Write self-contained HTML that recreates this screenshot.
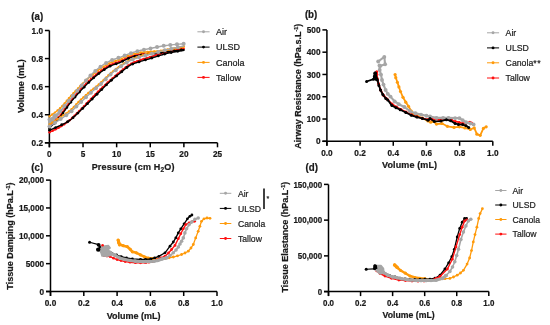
<!DOCTYPE html>
<html><head><meta charset="utf-8"><style>
html,body{margin:0;padding:0;background:#fff;}
body{width:550px;height:325px;overflow:hidden;}
svg{display:block;will-change:transform;filter:blur(0.3px);}
text{stroke:currentColor;stroke-width:0.22px;font-family:"Liberation Sans",sans-serif;}
</style></head><body>
<svg width="550" height="325" viewBox="0 0 550 325">
<rect width="550" height="325" fill="#fff"/>
<path d="M49.4,30.4 V147.3 M44.9,142.8 H217.5" stroke="#000" stroke-width="1.5" fill="none"/>
<path d="M44.9,142.8 H49.4" stroke="#000" stroke-width="1.5"/>
<text transform="translate(43,145.9) scale(0.96,1)" font-size="8.6" font-weight="bold" text-anchor="end" fill="#1a1a1a" color="#1a1a1a">0.2</text>
<path d="M44.9,114.73 H49.4" stroke="#000" stroke-width="1.5"/>
<text transform="translate(43,117.83) scale(0.96,1)" font-size="8.6" font-weight="bold" text-anchor="end" fill="#1a1a1a" color="#1a1a1a">0.4</text>
<path d="M44.9,86.65 H49.4" stroke="#000" stroke-width="1.5"/>
<text transform="translate(43,89.75) scale(0.96,1)" font-size="8.6" font-weight="bold" text-anchor="end" fill="#1a1a1a" color="#1a1a1a">0.6</text>
<path d="M44.9,58.58 H49.4" stroke="#000" stroke-width="1.5"/>
<text transform="translate(43,61.68) scale(0.96,1)" font-size="8.6" font-weight="bold" text-anchor="end" fill="#1a1a1a" color="#1a1a1a">0.8</text>
<path d="M44.9,30.5 H49.4" stroke="#000" stroke-width="1.5"/>
<text transform="translate(43,33.6) scale(0.96,1)" font-size="8.6" font-weight="bold" text-anchor="end" fill="#1a1a1a" color="#1a1a1a">1.0</text>
<path d="M49.4,142.8 V147.3" stroke="#000" stroke-width="1.5"/>
<text transform="translate(49.4,157.2) scale(0.96,1)" font-size="8.6" font-weight="bold" text-anchor="middle" fill="#1a1a1a" color="#1a1a1a">0</text>
<path d="M83.02,142.8 V147.3" stroke="#000" stroke-width="1.5"/>
<text transform="translate(83.02,157.2) scale(0.96,1)" font-size="8.6" font-weight="bold" text-anchor="middle" fill="#1a1a1a" color="#1a1a1a">5</text>
<path d="M116.64,142.8 V147.3" stroke="#000" stroke-width="1.5"/>
<text transform="translate(116.64,157.2) scale(0.96,1)" font-size="8.6" font-weight="bold" text-anchor="middle" fill="#1a1a1a" color="#1a1a1a">10</text>
<path d="M150.26,142.8 V147.3" stroke="#000" stroke-width="1.5"/>
<text transform="translate(150.26,157.2) scale(0.96,1)" font-size="8.6" font-weight="bold" text-anchor="middle" fill="#1a1a1a" color="#1a1a1a">15</text>
<path d="M183.88,142.8 V147.3" stroke="#000" stroke-width="1.5"/>
<text transform="translate(183.88,157.2) scale(0.96,1)" font-size="8.6" font-weight="bold" text-anchor="middle" fill="#1a1a1a" color="#1a1a1a">20</text>
<path d="M217.5,142.8 V147.3" stroke="#000" stroke-width="1.5"/>
<text transform="translate(217.5,157.2) scale(0.96,1)" font-size="8.6" font-weight="bold" text-anchor="middle" fill="#1a1a1a" color="#1a1a1a">25</text>
<text transform="translate(31.3,19.6) scale(0.95,1)" font-size="10.2" font-weight="bold" text-anchor="start" fill="#1a1a1a" color="#1a1a1a">(a)</text>
<text x="133.2" y="169.7" font-size="9" font-weight="bold" text-anchor="middle" fill="#1a1a1a" color="#1a1a1a" letter-spacing="0.2">Pressure (cm H<tspan font-size="6.5" dy="2.2">2</tspan><tspan dy="-2.2">O)</tspan></text>
<text transform="translate(23.5,86.2) rotate(-90)" x="0" y="0" font-size="9" font-weight="bold" text-anchor="middle" fill="#1a1a1a" color="#1a1a1a">Volume (mL)</text>
<path d="M49.5,119.5 L51,118.35 L52.5,117.22 L54,116.08 L55.5,114.91 L57,113.69 L58.5,112.4 L60,111 L61.5,109.43 L63,107.73 L64.5,105.95 L66,104.1 L67.5,102.23 L69,100.4 L70.5,98.61 L72,96.85 L73.5,95.09 L73.5,95.29 L72,97.21 L70.5,99.14 L69,101.13 L67.5,103.2 L66,105.36 L64.5,107.54 L63,109.71 L61.5,111.83 L60,113.86 L58.5,115.76 L57,117.59 L55.5,119.41 L54,121.21 L52.5,123.04 L51,124.89 L49.5,126.8 Z" fill="#a6a6a6"/>
<path d="M49.8,119 L49.8,127" stroke="#a6a6a6" stroke-width="3"/>
<path d="M49.5,127 L50.31,126.15 L51.4,125.05 L52.69,123.73 L54.12,122.26 L55.64,120.68 L57.16,119.05 L58.64,117.4 L60,115.8 L61.27,114.19 L62.54,112.49 L63.79,110.74 L65.03,108.95 L66.27,107.16 L67.51,105.38 L68.75,103.66 L70,102 L71.25,100.4 L72.5,98.83 L73.75,97.28 L75,95.76 L76.25,94.27 L77.5,92.82 L78.75,91.39 L80,90 L81.25,88.64 L82.5,87.32 L83.75,86.04 L85,84.78 L86.25,83.55 L87.5,82.35 L88.75,81.16 L90,80 L91.25,78.85 L92.5,77.72 L93.75,76.61 L95,75.53 L96.25,74.48 L97.5,73.45 L98.75,72.46 L100,71.5 L101.25,70.57 L102.5,69.67 L103.75,68.79 L105,67.95 L106.25,67.14 L107.5,66.38 L108.75,65.66 L110,65 L111.25,64.41 L112.5,63.9 L113.75,63.44 L115,63.02 L116.25,62.62 L117.5,62.22 L118.75,61.78 L120,61.3 L121.25,60.76 L122.5,60.18 L123.75,59.58 L125,58.97 L126.25,58.38 L127.5,57.8 L128.75,57.27 L130,56.8 L131.25,56.38 L132.5,56.01 L133.75,55.66 L135,55.35 L136.25,55.06 L137.5,54.79 L138.75,54.54 L140,54.3 L141.25,54.08 L142.5,53.88 L143.75,53.71 L145,53.56 L146.25,53.41 L147.5,53.28 L148.75,53.14 L150,53 L151.25,52.86 L152.5,52.74 L153.75,52.62 L155,52.51 L156.25,52.4 L157.5,52.28 L158.75,52.15 L160,52 L161.22,51.84 L162.41,51.67 L163.57,51.5 L164.75,51.31 L165.96,51.12 L167.22,50.92 L168.56,50.71 L170,50.5 L171.65,50.26 L173.55,49.99 L175.57,49.7 L177.62,49.41 L179.6,49.13 L181.39,48.87 L182.89,48.66 L184,48.5" fill="none" stroke="#ff1010" stroke-width="1.5" stroke-linejoin="round" stroke-linecap="round"/>
<circle cx="49.5" cy="127" r="1.2" fill="#ff1010"/>
<circle cx="51.84" cy="124.6" r="1.2" fill="#ff1010"/>
<circle cx="54.18" cy="122.21" r="1.2" fill="#ff1010"/>
<circle cx="56.48" cy="119.77" r="1.2" fill="#ff1010"/>
<circle cx="58.73" cy="117.29" r="1.2" fill="#ff1010"/>
<circle cx="60.86" cy="114.71" r="1.2" fill="#ff1010"/>
<circle cx="62.87" cy="112.02" r="1.2" fill="#ff1010"/>
<circle cx="64.8" cy="109.28" r="1.2" fill="#ff1010"/>
<circle cx="66.71" cy="106.53" r="1.2" fill="#ff1010"/>
<circle cx="68.65" cy="103.8" r="1.2" fill="#ff1010"/>
<circle cx="70.68" cy="101.14" r="1.2" fill="#ff1010"/>
<circle cx="72.76" cy="98.51" r="1.2" fill="#ff1010"/>
<circle cx="74.87" cy="95.91" r="1.2" fill="#ff1010"/>
<circle cx="77.04" cy="93.36" r="1.2" fill="#ff1010"/>
<circle cx="79.25" cy="90.84" r="1.2" fill="#ff1010"/>
<circle cx="81.51" cy="88.37" r="1.2" fill="#ff1010"/>
<circle cx="83.83" cy="85.95" r="1.2" fill="#ff1010"/>
<circle cx="86.21" cy="83.59" r="1.2" fill="#ff1010"/>
<circle cx="88.63" cy="81.28" r="1.2" fill="#ff1010"/>
<circle cx="91.09" cy="79" r="1.2" fill="#ff1010"/>
<circle cx="93.58" cy="76.76" r="1.2" fill="#ff1010"/>
<circle cx="96.12" cy="74.58" r="1.2" fill="#ff1010"/>
<circle cx="98.73" cy="72.47" r="1.2" fill="#ff1010"/>
<circle cx="101.4" cy="70.46" r="1.2" fill="#ff1010"/>
<circle cx="104.14" cy="68.53" r="1.2" fill="#ff1010"/>
<circle cx="106.96" cy="66.71" r="1.2" fill="#ff1010"/>
<circle cx="109.87" cy="65.07" r="1.2" fill="#ff1010"/>
<circle cx="112.94" cy="63.74" r="1.2" fill="#ff1010"/>
<circle cx="116.12" cy="62.67" r="1.2" fill="#ff1010"/>
<circle cx="119.28" cy="61.58" r="1.2" fill="#ff1010"/>
<circle cx="122.36" cy="60.25" r="1.2" fill="#ff1010"/>
<circle cx="125.38" cy="58.79" r="1.2" fill="#ff1010"/>
<circle cx="128.43" cy="57.41" r="1.2" fill="#ff1010"/>
<circle cx="131.58" cy="56.28" r="1.2" fill="#ff1010"/>
<circle cx="134.81" cy="55.4" r="1.2" fill="#ff1010"/>
<circle cx="138.08" cy="54.68" r="1.2" fill="#ff1010"/>
<circle cx="141.37" cy="54.06" r="1.2" fill="#ff1010"/>
<circle cx="144.69" cy="53.59" r="1.2" fill="#ff1010"/>
<circle cx="148.02" cy="53.22" r="1.2" fill="#ff1010"/>
<circle cx="151.35" cy="52.85" r="1.2" fill="#ff1010"/>
<circle cx="154.69" cy="52.54" r="1.2" fill="#ff1010"/>
<circle cx="158.02" cy="52.22" r="1.2" fill="#ff1010"/>
<circle cx="161.35" cy="51.82" r="1.2" fill="#ff1010"/>
<circle cx="164.66" cy="51.33" r="1.2" fill="#ff1010"/>
<circle cx="167.97" cy="50.81" r="1.2" fill="#ff1010"/>
<circle cx="171.28" cy="50.31" r="1.2" fill="#ff1010"/>
<circle cx="174.6" cy="49.84" r="1.2" fill="#ff1010"/>
<circle cx="177.91" cy="49.37" r="1.2" fill="#ff1010"/>
<circle cx="181.23" cy="48.89" r="1.2" fill="#ff1010"/>
<path d="M49.5,132.2 L50.31,131.81 L51.4,131.31 L52.69,130.72 L54.12,130.05 L55.64,129.32 L57.16,128.56 L58.64,127.78 L60,127 L61.27,126.21 L62.54,125.39 L63.79,124.55 L65.03,123.67 L66.27,122.76 L67.51,121.81 L68.75,120.82 L70,119.8 L71.25,118.73 L72.5,117.61 L73.75,116.44 L75,115.24 L76.25,114.02 L77.5,112.79 L78.75,111.54 L80,110.3 L81.25,109.05 L82.5,107.78 L83.75,106.49 L85,105.19 L86.25,103.89 L87.5,102.59 L88.75,101.29 L90,100 L91.25,98.71 L92.5,97.42 L93.75,96.13 L95,94.84 L96.25,93.55 L97.5,92.28 L98.75,91.03 L100,89.8 L101.25,88.59 L102.5,87.39 L103.75,86.21 L105,85.04 L106.25,83.89 L107.5,82.75 L108.75,81.62 L110,80.5 L111.25,79.39 L112.5,78.3 L113.75,77.22 L115,76.15 L116.25,75.09 L117.5,74.05 L118.75,73.02 L120,72 L121.25,70.97 L122.5,69.93 L123.75,68.9 L125,67.88 L126.25,66.89 L127.5,65.95 L128.75,65.08 L130,64.3 L131.25,63.61 L132.5,63 L133.75,62.46 L135,61.97 L136.25,61.51 L137.5,61.08 L138.75,60.64 L140,60.2 L141.25,59.76 L142.5,59.33 L143.75,58.93 L145,58.53 L146.25,58.15 L147.5,57.76 L148.75,57.38 L150,57 L151.25,56.61 L152.5,56.22 L153.75,55.83 L155,55.44 L156.25,55.06 L157.5,54.69 L158.75,54.34 L160,54 L161.22,53.69 L162.41,53.41 L163.57,53.14 L164.75,52.89 L165.96,52.63 L167.22,52.37 L168.56,52.1 L170,51.8 L171.65,51.46 L173.55,51.08 L175.57,50.67 L177.62,50.26 L179.6,49.87 L181.39,49.52 L182.89,49.22 L184,49" fill="none" stroke="#ff1010" stroke-width="1.5" stroke-linejoin="round" stroke-linecap="round"/>
<circle cx="49.5" cy="132.2" r="1.2" fill="#ff1010"/>
<circle cx="52.54" cy="130.79" r="1.2" fill="#ff1010"/>
<circle cx="55.57" cy="129.36" r="1.2" fill="#ff1010"/>
<circle cx="58.55" cy="127.83" r="1.2" fill="#ff1010"/>
<circle cx="61.42" cy="126.11" r="1.2" fill="#ff1010"/>
<circle cx="64.21" cy="124.25" r="1.2" fill="#ff1010"/>
<circle cx="66.91" cy="122.27" r="1.2" fill="#ff1010"/>
<circle cx="69.53" cy="120.18" r="1.2" fill="#ff1010"/>
<circle cx="72.07" cy="118" r="1.2" fill="#ff1010"/>
<circle cx="74.51" cy="115.71" r="1.2" fill="#ff1010"/>
<circle cx="76.91" cy="113.37" r="1.2" fill="#ff1010"/>
<circle cx="79.29" cy="111.01" r="1.2" fill="#ff1010"/>
<circle cx="81.66" cy="108.64" r="1.2" fill="#ff1010"/>
<circle cx="83.99" cy="106.24" r="1.2" fill="#ff1010"/>
<circle cx="86.31" cy="103.82" r="1.2" fill="#ff1010"/>
<circle cx="88.64" cy="101.41" r="1.2" fill="#ff1010"/>
<circle cx="90.97" cy="99" r="1.2" fill="#ff1010"/>
<circle cx="93.3" cy="96.6" r="1.2" fill="#ff1010"/>
<circle cx="95.63" cy="94.19" r="1.2" fill="#ff1010"/>
<circle cx="97.98" cy="91.8" r="1.2" fill="#ff1010"/>
<circle cx="100.36" cy="89.45" r="1.2" fill="#ff1010"/>
<circle cx="102.78" cy="87.13" r="1.2" fill="#ff1010"/>
<circle cx="105.22" cy="84.84" r="1.2" fill="#ff1010"/>
<circle cx="107.69" cy="82.57" r="1.2" fill="#ff1010"/>
<circle cx="110.19" cy="80.34" r="1.2" fill="#ff1010"/>
<circle cx="112.7" cy="78.12" r="1.2" fill="#ff1010"/>
<circle cx="115.24" cy="75.94" r="1.2" fill="#ff1010"/>
<circle cx="117.81" cy="73.79" r="1.2" fill="#ff1010"/>
<circle cx="120.4" cy="71.67" r="1.2" fill="#ff1010"/>
<circle cx="122.98" cy="69.53" r="1.2" fill="#ff1010"/>
<circle cx="125.58" cy="67.42" r="1.2" fill="#ff1010"/>
<circle cx="128.27" cy="65.42" r="1.2" fill="#ff1010"/>
<circle cx="131.13" cy="63.68" r="1.2" fill="#ff1010"/>
<circle cx="134.18" cy="62.29" r="1.2" fill="#ff1010"/>
<circle cx="137.32" cy="61.14" r="1.2" fill="#ff1010"/>
<circle cx="140.48" cy="60.03" r="1.2" fill="#ff1010"/>
<circle cx="143.66" cy="58.96" r="1.2" fill="#ff1010"/>
<circle cx="146.85" cy="57.96" r="1.2" fill="#ff1010"/>
<circle cx="150.06" cy="56.98" r="1.2" fill="#ff1010"/>
<circle cx="153.25" cy="55.98" r="1.2" fill="#ff1010"/>
<circle cx="156.46" cy="55" r="1.2" fill="#ff1010"/>
<circle cx="159.68" cy="54.09" r="1.2" fill="#ff1010"/>
<circle cx="162.93" cy="53.29" r="1.2" fill="#ff1010"/>
<circle cx="166.21" cy="52.58" r="1.2" fill="#ff1010"/>
<circle cx="169.49" cy="51.91" r="1.2" fill="#ff1010"/>
<circle cx="172.77" cy="51.23" r="1.2" fill="#ff1010"/>
<circle cx="176.06" cy="50.57" r="1.2" fill="#ff1010"/>
<circle cx="179.34" cy="49.92" r="1.2" fill="#ff1010"/>
<circle cx="182.63" cy="49.27" r="1.2" fill="#ff1010"/>
<path d="M49.5,128 L50.31,127.17 L51.4,126.09 L52.69,124.8 L54.12,123.36 L55.64,121.81 L57.16,120.2 L58.64,118.58 L60,117 L61.27,115.39 L62.54,113.7 L63.79,111.94 L65.03,110.14 L66.27,108.34 L67.51,106.57 L68.75,104.84 L70,103.2 L71.25,101.63 L72.5,100.09 L73.75,98.6 L75,97.13 L76.25,95.69 L77.5,94.28 L78.75,92.88 L80,91.5 L81.25,90.13 L82.5,88.78 L83.75,87.46 L85,86.15 L86.25,84.87 L87.5,83.62 L88.75,82.39 L90,81.2 L91.25,80.04 L92.5,78.9 L93.75,77.79 L95,76.71 L96.25,75.66 L97.5,74.64 L98.75,73.65 L100,72.7 L101.25,71.77 L102.5,70.87 L103.75,69.99 L105,69.15 L106.25,68.34 L107.5,67.58 L108.75,66.86 L110,66.2 L111.25,65.61 L112.5,65.1 L113.75,64.65 L115,64.24 L116.25,63.84 L117.5,63.43 L118.75,62.99 L120,62.5 L121.25,61.95 L122.5,61.35 L123.75,60.72 L125,60.08 L126.25,59.45 L127.5,58.85 L128.75,58.29 L130,57.8 L131.25,57.37 L132.5,56.98 L133.75,56.62 L135,56.3 L136.25,56 L137.5,55.72 L138.75,55.46 L140,55.2 L141.25,54.96 L142.5,54.74 L143.75,54.54 L145,54.36 L146.25,54.18 L147.5,54.02 L148.75,53.86 L150,53.7 L151.25,53.54 L152.5,53.4 L153.75,53.27 L155,53.14 L156.25,53.01 L157.5,52.88 L158.75,52.74 L160,52.6 L161.22,52.45 L162.41,52.3 L163.57,52.14 L164.75,51.99 L165.96,51.83 L167.22,51.66 L168.56,51.48 L170,51.3 L171.65,51.1 L173.55,50.86 L175.57,50.62 L177.62,50.37 L179.6,50.13 L181.39,49.91 L182.89,49.73 L184,49.6" fill="none" stroke="#000000" stroke-width="1.4" stroke-linejoin="round" stroke-linecap="round"/>
<circle cx="49.5" cy="128" r="1.4" fill="#000000"/>
<circle cx="54.23" cy="123.25" r="1.4" fill="#000000"/>
<circle cx="58.82" cy="118.37" r="1.4" fill="#000000"/>
<circle cx="62.95" cy="113.11" r="1.4" fill="#000000"/>
<circle cx="66.78" cy="107.61" r="1.4" fill="#000000"/>
<circle cx="70.77" cy="102.23" r="1.4" fill="#000000"/>
<circle cx="75.05" cy="97.07" r="1.4" fill="#000000"/>
<circle cx="79.49" cy="92.06" r="1.4" fill="#000000"/>
<circle cx="84.05" cy="87.14" r="1.4" fill="#000000"/>
<circle cx="88.76" cy="82.38" r="1.4" fill="#000000"/>
<circle cx="93.69" cy="77.85" r="1.4" fill="#000000"/>
<circle cx="98.85" cy="73.58" r="1.4" fill="#000000"/>
<circle cx="104.27" cy="69.64" r="1.4" fill="#000000"/>
<circle cx="110.01" cy="66.19" r="1.4" fill="#000000"/>
<circle cx="116.27" cy="63.83" r="1.4" fill="#000000"/>
<circle cx="122.49" cy="61.35" r="1.4" fill="#000000"/>
<circle cx="128.51" cy="58.4" r="1.4" fill="#000000"/>
<circle cx="134.87" cy="56.33" r="1.4" fill="#000000"/>
<circle cx="141.42" cy="54.93" r="1.4" fill="#000000"/>
<circle cx="148.05" cy="53.95" r="1.4" fill="#000000"/>
<circle cx="154.7" cy="53.17" r="1.4" fill="#000000"/>
<circle cx="161.36" cy="52.43" r="1.4" fill="#000000"/>
<circle cx="168" cy="51.56" r="1.4" fill="#000000"/>
<circle cx="174.65" cy="50.73" r="1.4" fill="#000000"/>
<circle cx="181.3" cy="49.93" r="1.4" fill="#000000"/>
<path d="M49.5,130.2 L50.31,129.85 L51.4,129.39 L52.69,128.85 L54.12,128.24 L55.64,127.59 L57.16,126.91 L58.64,126.24 L60,125.6 L61.27,124.99 L62.54,124.4 L63.79,123.8 L65.03,123.19 L66.27,122.54 L67.51,121.84 L68.75,121.06 L70,120.2 L71.25,119.24 L72.5,118.18 L73.75,117.05 L75,115.88 L76.25,114.66 L77.5,113.43 L78.75,112.2 L80,111 L81.25,109.8 L82.5,108.59 L83.75,107.37 L85,106.14 L86.25,104.91 L87.5,103.67 L88.75,102.43 L90,101.2 L91.25,99.97 L92.5,98.73 L93.75,97.49 L95,96.25 L96.25,95.01 L97.5,93.77 L98.75,92.53 L100,91.3 L101.25,90.06 L102.5,88.81 L103.75,87.55 L105,86.3 L106.25,85.06 L107.5,83.84 L108.75,82.65 L110,81.5 L111.25,80.39 L112.5,79.31 L113.75,78.26 L115,77.22 L116.25,76.21 L117.5,75.2 L118.75,74.2 L120,73.2 L121.25,72.17 L122.5,71.12 L123.75,70.06 L125,69.02 L126.25,68.01 L127.5,67.06 L128.75,66.18 L130,65.4 L131.25,64.73 L132.5,64.15 L133.75,63.65 L135,63.2 L136.25,62.79 L137.5,62.4 L138.75,62.01 L140,61.6 L141.25,61.19 L142.5,60.8 L143.75,60.43 L145,60.06 L146.25,59.7 L147.5,59.35 L148.75,58.98 L150,58.6 L151.25,58.21 L152.5,57.8 L153.75,57.39 L155,56.98 L156.25,56.56 L157.5,56.16 L158.75,55.77 L160,55.4 L161.22,55.05 L162.41,54.71 L163.57,54.38 L164.75,54.06 L165.96,53.74 L167.22,53.43 L168.56,53.12 L170,52.8 L171.65,52.47 L173.55,52.11 L175.57,51.75 L177.62,51.39 L179.6,51.05 L181.39,50.75 L182.89,50.49 L184,50.3" fill="none" stroke="#000000" stroke-width="1.4" stroke-linejoin="round" stroke-linecap="round"/>
<circle cx="49.5" cy="130.2" r="1.4" fill="#000000"/>
<circle cx="55.66" cy="127.57" r="1.4" fill="#000000"/>
<circle cx="61.75" cy="124.77" r="1.4" fill="#000000"/>
<circle cx="67.71" cy="121.71" r="1.4" fill="#000000"/>
<circle cx="73.05" cy="117.69" r="1.4" fill="#000000"/>
<circle cx="77.89" cy="113.05" r="1.4" fill="#000000"/>
<circle cx="82.7" cy="108.4" r="1.4" fill="#000000"/>
<circle cx="87.48" cy="103.69" r="1.4" fill="#000000"/>
<circle cx="92.24" cy="98.99" r="1.4" fill="#000000"/>
<circle cx="97" cy="94.27" r="1.4" fill="#000000"/>
<circle cx="101.76" cy="89.55" r="1.4" fill="#000000"/>
<circle cx="106.5" cy="84.82" r="1.4" fill="#000000"/>
<circle cx="111.4" cy="80.25" r="1.4" fill="#000000"/>
<circle cx="116.55" cy="75.97" r="1.4" fill="#000000"/>
<circle cx="121.76" cy="71.75" r="1.4" fill="#000000"/>
<circle cx="126.93" cy="67.49" r="1.4" fill="#000000"/>
<circle cx="132.67" cy="64.08" r="1.4" fill="#000000"/>
<circle cx="139.01" cy="61.92" r="1.4" fill="#000000"/>
<circle cx="145.41" cy="59.94" r="1.4" fill="#000000"/>
<circle cx="151.83" cy="58.02" r="1.4" fill="#000000"/>
<circle cx="158.2" cy="55.94" r="1.4" fill="#000000"/>
<circle cx="164.64" cy="54.09" r="1.4" fill="#000000"/>
<circle cx="171.16" cy="52.57" r="1.4" fill="#000000"/>
<circle cx="177.75" cy="51.37" r="1.4" fill="#000000"/>
<path d="M49.5,116.5 L50.31,115.89 L51.4,115.1 L52.69,114.16 L54.12,113.11 L55.64,111.96 L57.16,110.76 L58.64,109.53 L60,108.3 L61.27,107.03 L62.54,105.68 L63.79,104.26 L65.03,102.81 L66.27,101.33 L67.51,99.86 L68.75,98.4 L70,97 L71.25,95.63 L72.5,94.25 L73.75,92.89 L75,91.54 L76.25,90.2 L77.5,88.88 L78.75,87.58 L80,86.3 L81.25,85.04 L82.5,83.8 L83.75,82.57 L85,81.37 L86.25,80.19 L87.5,79.03 L88.75,77.9 L90,76.8 L91.25,75.73 L92.5,74.69 L93.75,73.67 L95,72.68 L96.25,71.72 L97.5,70.78 L98.75,69.88 L100,69 L101.25,68.15 L102.5,67.32 L103.75,66.52 L105,65.74 L106.25,65 L107.5,64.3 L108.75,63.63 L110,63 L111.25,62.43 L112.5,61.93 L113.75,61.47 L115,61.04 L116.25,60.63 L117.5,60.21 L118.75,59.78 L120,59.3 L121.25,58.78 L122.5,58.22 L123.75,57.65 L125,57.07 L126.25,56.5 L127.5,55.96 L128.75,55.45 L130,55 L131.25,54.6 L132.5,54.23 L133.75,53.9 L135,53.59 L136.25,53.31 L137.5,53.06 L138.75,52.82 L140,52.6 L141.25,52.41 L142.5,52.25 L143.75,52.11 L145,52 L146.25,51.9 L147.5,51.8 L148.75,51.71 L150,51.6 L151.25,51.5 L152.5,51.41 L153.75,51.33 L155,51.25 L156.25,51.16 L157.5,51.07 L158.75,50.95 L160,50.8 L161.22,50.63 L162.41,50.44 L163.57,50.23 L164.75,50.01 L165.96,49.77 L167.22,49.52 L168.56,49.27 L170,49 L171.65,48.7 L173.55,48.37 L175.57,48 L177.62,47.64 L179.6,47.29 L181.39,46.97 L182.89,46.7 L184,46.5" fill="none" stroke="#ff9a0a" stroke-width="1.3" stroke-linejoin="round" stroke-linecap="round"/>
<circle cx="49.5" cy="116.5" r="1.15" fill="#ff9a0a"/>
<circle cx="52.2" cy="114.52" r="1.15" fill="#ff9a0a"/>
<circle cx="54.89" cy="112.53" r="1.15" fill="#ff9a0a"/>
<circle cx="57.53" cy="110.46" r="1.15" fill="#ff9a0a"/>
<circle cx="60.05" cy="108.25" r="1.15" fill="#ff9a0a"/>
<circle cx="62.38" cy="105.85" r="1.15" fill="#ff9a0a"/>
<circle cx="64.59" cy="103.33" r="1.15" fill="#ff9a0a"/>
<circle cx="66.75" cy="100.77" r="1.15" fill="#ff9a0a"/>
<circle cx="68.92" cy="98.22" r="1.15" fill="#ff9a0a"/>
<circle cx="71.16" cy="95.73" r="1.15" fill="#ff9a0a"/>
<circle cx="73.42" cy="93.25" r="1.15" fill="#ff9a0a"/>
<circle cx="75.69" cy="90.79" r="1.15" fill="#ff9a0a"/>
<circle cx="78" cy="88.36" r="1.15" fill="#ff9a0a"/>
<circle cx="80.34" cy="85.96" r="1.15" fill="#ff9a0a"/>
<circle cx="82.71" cy="83.6" r="1.15" fill="#ff9a0a"/>
<circle cx="85.11" cy="81.26" r="1.15" fill="#ff9a0a"/>
<circle cx="87.56" cy="78.97" r="1.15" fill="#ff9a0a"/>
<circle cx="90.06" cy="76.75" r="1.15" fill="#ff9a0a"/>
<circle cx="92.62" cy="74.59" r="1.15" fill="#ff9a0a"/>
<circle cx="95.24" cy="72.5" r="1.15" fill="#ff9a0a"/>
<circle cx="97.92" cy="70.48" r="1.15" fill="#ff9a0a"/>
<circle cx="100.65" cy="68.55" r="1.15" fill="#ff9a0a"/>
<circle cx="103.45" cy="66.71" r="1.15" fill="#ff9a0a"/>
<circle cx="106.31" cy="64.97" r="1.15" fill="#ff9a0a"/>
<circle cx="109.26" cy="63.37" r="1.15" fill="#ff9a0a"/>
<circle cx="112.31" cy="62" r="1.15" fill="#ff9a0a"/>
<circle cx="115.47" cy="60.89" r="1.15" fill="#ff9a0a"/>
<circle cx="118.64" cy="59.81" r="1.15" fill="#ff9a0a"/>
<circle cx="121.75" cy="58.56" r="1.15" fill="#ff9a0a"/>
<circle cx="124.8" cy="57.16" r="1.15" fill="#ff9a0a"/>
<circle cx="127.86" cy="55.81" r="1.15" fill="#ff9a0a"/>
<circle cx="131.01" cy="54.68" r="1.15" fill="#ff9a0a"/>
<circle cx="134.24" cy="53.78" r="1.15" fill="#ff9a0a"/>
<circle cx="137.51" cy="53.06" r="1.15" fill="#ff9a0a"/>
<circle cx="140.81" cy="52.48" r="1.15" fill="#ff9a0a"/>
<circle cx="144.13" cy="52.08" r="1.15" fill="#ff9a0a"/>
<circle cx="147.47" cy="51.81" r="1.15" fill="#ff9a0a"/>
<circle cx="150.81" cy="51.53" r="1.15" fill="#ff9a0a"/>
<circle cx="154.15" cy="51.3" r="1.15" fill="#ff9a0a"/>
<circle cx="157.49" cy="51.07" r="1.15" fill="#ff9a0a"/>
<circle cx="160.82" cy="50.68" r="1.15" fill="#ff9a0a"/>
<circle cx="164.12" cy="50.12" r="1.15" fill="#ff9a0a"/>
<circle cx="167.41" cy="49.49" r="1.15" fill="#ff9a0a"/>
<circle cx="170.71" cy="48.87" r="1.15" fill="#ff9a0a"/>
<circle cx="174" cy="48.28" r="1.15" fill="#ff9a0a"/>
<circle cx="177.3" cy="47.7" r="1.15" fill="#ff9a0a"/>
<circle cx="180.6" cy="47.11" r="1.15" fill="#ff9a0a"/>
<circle cx="183.9" cy="46.52" r="1.15" fill="#ff9a0a"/>
<path d="M49.5,124.5 L50.31,123.96 L51.4,123.24 L52.69,122.39 L54.12,121.44 L55.64,120.43 L57.16,119.41 L58.64,118.42 L60,117.5 L61.27,116.65 L62.54,115.82 L63.79,115.01 L65.03,114.19 L66.27,113.34 L67.51,112.46 L68.75,111.52 L70,110.5 L71.25,109.39 L72.5,108.19 L73.75,106.93 L75,105.62 L76.25,104.31 L77.5,103 L78.75,101.72 L80,100.5 L81.25,99.32 L82.5,98.16 L83.75,97.01 L85,95.88 L86.25,94.77 L87.5,93.66 L88.75,92.58 L90,91.5 L91.25,90.45 L92.5,89.45 L93.75,88.46 L95,87.49 L96.25,86.51 L97.5,85.51 L98.75,84.48 L100,83.4 L101.25,82.26 L102.5,81.06 L103.75,79.83 L105,78.58 L106.25,77.33 L107.5,76.11 L108.75,74.92 L110,73.8 L111.25,72.73 L112.5,71.68 L113.75,70.66 L115,69.67 L116.25,68.71 L117.5,67.78 L118.75,66.88 L120,66 L121.25,65.15 L122.5,64.33 L123.75,63.53 L125,62.76 L126.25,62.02 L127.5,61.32 L128.75,60.64 L130,60 L131.25,59.4 L132.5,58.83 L133.75,58.3 L135,57.8 L136.25,57.32 L137.5,56.87 L138.75,56.43 L140,56 L141.25,55.59 L142.5,55.19 L143.75,54.82 L145,54.46 L146.25,54.12 L147.5,53.8 L148.75,53.49 L150,53.2 L151.25,52.93 L152.5,52.68 L153.75,52.46 L155,52.24 L156.25,52.04 L157.5,51.83 L158.75,51.62 L160,51.4 L161.22,51.17 L162.41,50.95 L163.57,50.72 L164.75,50.49 L165.96,50.26 L167.22,50.02 L168.56,49.77 L170,49.5 L171.65,49.2 L173.55,48.86 L175.57,48.5 L177.62,48.13 L179.6,47.78 L181.39,47.46 L182.89,47.2 L184,47" fill="none" stroke="#ff9a0a" stroke-width="1.3" stroke-linejoin="round" stroke-linecap="round"/>
<circle cx="49.5" cy="124.5" r="1.15" fill="#ff9a0a"/>
<circle cx="52.29" cy="122.65" r="1.15" fill="#ff9a0a"/>
<circle cx="55.09" cy="120.8" r="1.15" fill="#ff9a0a"/>
<circle cx="57.87" cy="118.94" r="1.15" fill="#ff9a0a"/>
<circle cx="60.65" cy="117.07" r="1.15" fill="#ff9a0a"/>
<circle cx="63.45" cy="115.23" r="1.15" fill="#ff9a0a"/>
<circle cx="66.24" cy="113.37" r="1.15" fill="#ff9a0a"/>
<circle cx="68.93" cy="111.38" r="1.15" fill="#ff9a0a"/>
<circle cx="71.46" cy="109.18" r="1.15" fill="#ff9a0a"/>
<circle cx="73.84" cy="106.83" r="1.15" fill="#ff9a0a"/>
<circle cx="76.16" cy="104.41" r="1.15" fill="#ff9a0a"/>
<circle cx="78.48" cy="102" r="1.15" fill="#ff9a0a"/>
<circle cx="80.89" cy="99.66" r="1.15" fill="#ff9a0a"/>
<circle cx="83.34" cy="97.39" r="1.15" fill="#ff9a0a"/>
<circle cx="85.83" cy="95.14" r="1.15" fill="#ff9a0a"/>
<circle cx="88.34" cy="92.93" r="1.15" fill="#ff9a0a"/>
<circle cx="90.89" cy="90.75" r="1.15" fill="#ff9a0a"/>
<circle cx="93.5" cy="88.66" r="1.15" fill="#ff9a0a"/>
<circle cx="96.14" cy="86.59" r="1.15" fill="#ff9a0a"/>
<circle cx="98.74" cy="84.48" r="1.15" fill="#ff9a0a"/>
<circle cx="101.25" cy="82.26" r="1.15" fill="#ff9a0a"/>
<circle cx="103.65" cy="79.93" r="1.15" fill="#ff9a0a"/>
<circle cx="106.02" cy="77.56" r="1.15" fill="#ff9a0a"/>
<circle cx="108.43" cy="75.23" r="1.15" fill="#ff9a0a"/>
<circle cx="110.93" cy="73" r="1.15" fill="#ff9a0a"/>
<circle cx="113.51" cy="70.86" r="1.15" fill="#ff9a0a"/>
<circle cx="116.15" cy="68.79" r="1.15" fill="#ff9a0a"/>
<circle cx="118.85" cy="66.81" r="1.15" fill="#ff9a0a"/>
<circle cx="121.61" cy="64.91" r="1.15" fill="#ff9a0a"/>
<circle cx="124.43" cy="63.11" r="1.15" fill="#ff9a0a"/>
<circle cx="127.32" cy="61.42" r="1.15" fill="#ff9a0a"/>
<circle cx="130.29" cy="59.86" r="1.15" fill="#ff9a0a"/>
<circle cx="133.34" cy="58.48" r="1.15" fill="#ff9a0a"/>
<circle cx="136.45" cy="57.25" r="1.15" fill="#ff9a0a"/>
<circle cx="139.61" cy="56.13" r="1.15" fill="#ff9a0a"/>
<circle cx="142.8" cy="55.1" r="1.15" fill="#ff9a0a"/>
<circle cx="146.02" cy="54.19" r="1.15" fill="#ff9a0a"/>
<circle cx="149.27" cy="53.37" r="1.15" fill="#ff9a0a"/>
<circle cx="152.55" cy="52.67" r="1.15" fill="#ff9a0a"/>
<circle cx="155.85" cy="52.1" r="1.15" fill="#ff9a0a"/>
<circle cx="159.15" cy="51.55" r="1.15" fill="#ff9a0a"/>
<circle cx="162.44" cy="50.94" r="1.15" fill="#ff9a0a"/>
<circle cx="165.73" cy="50.3" r="1.15" fill="#ff9a0a"/>
<circle cx="169.03" cy="49.68" r="1.15" fill="#ff9a0a"/>
<circle cx="172.32" cy="49.08" r="1.15" fill="#ff9a0a"/>
<circle cx="175.62" cy="48.49" r="1.15" fill="#ff9a0a"/>
<circle cx="178.92" cy="47.9" r="1.15" fill="#ff9a0a"/>
<circle cx="182.22" cy="47.32" r="1.15" fill="#ff9a0a"/>
<path d="M49.5,119.5 L50.31,118.87 L51.4,118.05 L52.69,117.08 L54.12,115.99 L55.64,114.8 L57.16,113.56 L58.64,112.28 L60,111 L61.27,109.68 L62.54,108.28 L63.79,106.81 L65.03,105.3 L66.27,103.76 L67.51,102.22 L68.75,100.69 L70,99.2 L71.25,97.73 L72.5,96.26 L73.75,94.8 L75,93.33 L76.25,91.87 L77.5,90.41 L78.75,88.95 L80,87.5 L81.25,86.04 L82.5,84.55 L83.75,83.06 L85,81.58 L86.25,80.12 L87.5,78.69 L88.75,77.32 L90,76 L91.25,74.73 L92.5,73.5 L93.75,72.31 L95,71.16 L96.25,70.05 L97.5,68.98 L98.75,67.96 L100,67 L101.25,66.09 L102.5,65.24 L103.75,64.43 L105,63.67 L106.25,62.95 L107.5,62.27 L108.75,61.62 L110,61 L111.25,60.43 L112.5,59.92 L113.75,59.45 L115,59.01 L116.25,58.59 L117.5,58.18 L118.75,57.75 L120,57.3 L121.25,56.82 L122.5,56.34 L123.75,55.85 L125,55.36 L126.25,54.87 L127.5,54.4 L128.75,53.94 L130,53.5 L131.25,53.08 L132.5,52.67 L133.75,52.27 L135,51.89 L136.25,51.52 L137.5,51.16 L138.75,50.82 L140,50.5 L141.25,50.2 L142.5,49.93 L143.75,49.68 L145,49.44 L146.25,49.21 L147.5,48.98 L148.75,48.74 L150,48.5 L151.25,48.25 L152.5,47.99 L153.75,47.73 L155,47.47 L156.25,47.21 L157.5,46.96 L158.75,46.73 L160,46.5 L161.22,46.29 L162.41,46.08 L163.57,45.89 L164.75,45.7 L165.96,45.52 L167.22,45.34 L168.56,45.17 L170,45 L171.65,44.83 L173.55,44.65 L175.57,44.48 L177.62,44.31 L179.6,44.15 L181.39,44.01 L182.89,43.89 L184,43.8" fill="none" stroke="#a6a6a6" stroke-width="1.4" stroke-linejoin="round" stroke-linecap="round"/>
<circle cx="49.5" cy="119.5" r="2.0" fill="#a6a6a6"/>
<circle cx="54.83" cy="115.44" r="2.0" fill="#a6a6a6"/>
<circle cx="59.91" cy="111.08" r="2.0" fill="#a6a6a6"/>
<circle cx="64.38" cy="106.09" r="2.0" fill="#a6a6a6"/>
<circle cx="68.6" cy="100.89" r="2.0" fill="#a6a6a6"/>
<circle cx="72.92" cy="95.77" r="2.0" fill="#a6a6a6"/>
<circle cx="77.27" cy="90.67" r="2.0" fill="#a6a6a6"/>
<circle cx="81.63" cy="85.58" r="2.0" fill="#a6a6a6"/>
<circle cx="85.95" cy="80.47" r="2.0" fill="#a6a6a6"/>
<circle cx="90.47" cy="75.52" r="2.0" fill="#a6a6a6"/>
<circle cx="95.31" cy="70.88" r="2.0" fill="#a6a6a6"/>
<circle cx="100.49" cy="66.64" r="2.0" fill="#a6a6a6"/>
<circle cx="106.12" cy="63.02" r="2.0" fill="#a6a6a6"/>
<circle cx="112.13" cy="60.07" r="2.0" fill="#a6a6a6"/>
<circle cx="118.45" cy="57.85" r="2.0" fill="#a6a6a6"/>
<circle cx="124.71" cy="55.47" r="2.0" fill="#a6a6a6"/>
<circle cx="131" cy="53.16" r="2.0" fill="#a6a6a6"/>
<circle cx="137.41" cy="51.19" r="2.0" fill="#a6a6a6"/>
<circle cx="143.92" cy="49.64" r="2.0" fill="#a6a6a6"/>
<circle cx="150.51" cy="48.4" r="2.0" fill="#a6a6a6"/>
<circle cx="157.07" cy="47.05" r="2.0" fill="#a6a6a6"/>
<circle cx="163.66" cy="45.87" r="2.0" fill="#a6a6a6"/>
<circle cx="170.3" cy="44.97" r="2.0" fill="#a6a6a6"/>
<circle cx="176.97" cy="44.36" r="2.0" fill="#a6a6a6"/>
<circle cx="183.65" cy="43.83" r="2.0" fill="#a6a6a6"/>
<path d="M49.5,126.5 L50.31,125.96 L51.4,125.24 L52.69,124.39 L54.12,123.44 L55.64,122.43 L57.16,121.41 L58.64,120.42 L60,119.5 L61.27,118.64 L62.54,117.81 L63.79,116.98 L65.03,116.16 L66.27,115.31 L67.51,114.43 L68.75,113.49 L70,112.5 L71.25,111.43 L72.5,110.3 L73.75,109.12 L75,107.91 L76.25,106.67 L77.5,105.43 L78.75,104.2 L80,103 L81.25,101.81 L82.5,100.61 L83.75,99.4 L85,98.2 L86.25,97 L87.5,95.82 L88.75,94.65 L90,93.5 L91.25,92.38 L92.5,91.29 L93.75,90.23 L95,89.17 L96.25,88.11 L97.5,87.03 L98.75,85.93 L100,84.8 L101.25,83.62 L102.5,82.39 L103.75,81.13 L105,79.86 L106.25,78.59 L107.5,77.35 L108.75,76.15 L110,75 L111.25,73.9 L112.5,72.83 L113.75,71.79 L115,70.77 L116.25,69.79 L117.5,68.83 L118.75,67.9 L120,67 L121.25,66.12 L122.5,65.27 L123.75,64.44 L125,63.64 L126.25,62.87 L127.5,62.14 L128.75,61.45 L130,60.8 L131.25,60.2 L132.5,59.66 L133.75,59.15 L135,58.68 L136.25,58.24 L137.5,57.82 L138.75,57.41 L140,57 L141.25,56.61 L142.5,56.25 L143.75,55.91 L145,55.59 L146.25,55.27 L147.5,54.96 L148.75,54.63 L150,54.3 L151.25,53.95 L152.5,53.6 L153.75,53.24 L155,52.89 L156.25,52.53 L157.5,52.18 L158.75,51.84 L160,51.5 L161.22,51.18 L162.41,50.87 L163.57,50.56 L164.75,50.26 L165.96,49.96 L167.22,49.65 L168.56,49.33 L170,49 L171.65,48.63 L173.55,48.21 L175.57,47.78 L177.62,47.34 L179.6,46.93 L181.39,46.55 L182.89,46.23 L184,46" fill="none" stroke="#a6a6a6" stroke-width="1.4" stroke-linejoin="round" stroke-linecap="round"/>
<circle cx="49.5" cy="126.5" r="2.0" fill="#a6a6a6"/>
<circle cx="55.09" cy="122.8" r="2.0" fill="#a6a6a6"/>
<circle cx="60.65" cy="119.06" r="2.0" fill="#a6a6a6"/>
<circle cx="66.22" cy="115.34" r="2.0" fill="#a6a6a6"/>
<circle cx="71.49" cy="111.21" r="2.0" fill="#a6a6a6"/>
<circle cx="76.34" cy="106.59" r="2.0" fill="#a6a6a6"/>
<circle cx="81.14" cy="101.92" r="2.0" fill="#a6a6a6"/>
<circle cx="85.97" cy="97.27" r="2.0" fill="#a6a6a6"/>
<circle cx="90.88" cy="92.71" r="2.0" fill="#a6a6a6"/>
<circle cx="95.96" cy="88.35" r="2.0" fill="#a6a6a6"/>
<circle cx="100.96" cy="83.89" r="2.0" fill="#a6a6a6"/>
<circle cx="105.7" cy="79.15" r="2.0" fill="#a6a6a6"/>
<circle cx="110.54" cy="74.53" r="2.0" fill="#a6a6a6"/>
<circle cx="115.68" cy="70.24" r="2.0" fill="#a6a6a6"/>
<circle cx="121.07" cy="66.25" r="2.0" fill="#a6a6a6"/>
<circle cx="126.69" cy="62.61" r="2.0" fill="#a6a6a6"/>
<circle cx="132.67" cy="59.59" r="2.0" fill="#a6a6a6"/>
<circle cx="138.97" cy="57.33" r="2.0" fill="#a6a6a6"/>
<circle cx="145.41" cy="55.48" r="2.0" fill="#a6a6a6"/>
<circle cx="151.89" cy="53.77" r="2.0" fill="#a6a6a6"/>
<circle cx="158.34" cy="51.95" r="2.0" fill="#a6a6a6"/>
<circle cx="164.81" cy="50.25" r="2.0" fill="#a6a6a6"/>
<circle cx="171.33" cy="48.7" r="2.0" fill="#a6a6a6"/>
<circle cx="177.88" cy="47.29" r="2.0" fill="#a6a6a6"/>
<path d="M197.4,31.8 H209.6" stroke="#a6a6a6" stroke-width="1.0"/>
<circle cx="203.5" cy="31.8" r="1.45" fill="#a6a6a6"/>
<text x="216" y="35" font-size="9" font-weight="normal" text-anchor="start" fill="#222" color="#222">Air</text>
<path d="M197.4,47.1 H209.6" stroke="#000000" stroke-width="1.0"/>
<circle cx="203.5" cy="47.1" r="1.45" fill="#000000"/>
<text x="216" y="50.3" font-size="9" font-weight="normal" text-anchor="start" fill="#222" color="#222">ULSD</text>
<path d="M197.4,62.4 H209.6" stroke="#ff9a0a" stroke-width="1.0"/>
<circle cx="203.5" cy="62.4" r="1.45" fill="#ff9a0a"/>
<text x="216" y="65.6" font-size="9" font-weight="normal" text-anchor="start" fill="#222" color="#222">Canola</text>
<path d="M197.4,77.4 H209.6" stroke="#ff1010" stroke-width="1.0"/>
<circle cx="203.5" cy="77.4" r="1.45" fill="#ff1010"/>
<text x="216" y="80.6" font-size="9" font-weight="normal" text-anchor="start" fill="#222" color="#222">Tallow</text>
<path d="M326.9,29.9 V145.8 M322.4,141.3 H492.8" stroke="#000" stroke-width="1.5" fill="none"/>
<path d="M322.4,141.3 H326.9" stroke="#000" stroke-width="1.5"/>
<text transform="translate(320.5,144.4) scale(0.96,1)" font-size="8.6" font-weight="bold" text-anchor="end" fill="#1a1a1a" color="#1a1a1a">0</text>
<path d="M322.4,119.02 H326.9" stroke="#000" stroke-width="1.5"/>
<text transform="translate(320.5,122.12) scale(0.96,1)" font-size="8.6" font-weight="bold" text-anchor="end" fill="#1a1a1a" color="#1a1a1a">100</text>
<path d="M322.4,96.74 H326.9" stroke="#000" stroke-width="1.5"/>
<text transform="translate(320.5,99.84) scale(0.96,1)" font-size="8.6" font-weight="bold" text-anchor="end" fill="#1a1a1a" color="#1a1a1a">200</text>
<path d="M322.4,74.46 H326.9" stroke="#000" stroke-width="1.5"/>
<text transform="translate(320.5,77.56) scale(0.96,1)" font-size="8.6" font-weight="bold" text-anchor="end" fill="#1a1a1a" color="#1a1a1a">300</text>
<path d="M322.4,52.18 H326.9" stroke="#000" stroke-width="1.5"/>
<text transform="translate(320.5,55.28) scale(0.96,1)" font-size="8.6" font-weight="bold" text-anchor="end" fill="#1a1a1a" color="#1a1a1a">400</text>
<path d="M322.4,29.9 H326.9" stroke="#000" stroke-width="1.5"/>
<text transform="translate(320.5,33) scale(0.96,1)" font-size="8.6" font-weight="bold" text-anchor="end" fill="#1a1a1a" color="#1a1a1a">500</text>
<path d="M326.9,141.3 V145.8" stroke="#000" stroke-width="1.5"/>
<text transform="translate(326.9,155.7) scale(0.96,1)" font-size="8.6" font-weight="bold" text-anchor="middle" fill="#1a1a1a" color="#1a1a1a">0.0</text>
<path d="M360.08,141.3 V145.8" stroke="#000" stroke-width="1.5"/>
<text transform="translate(360.08,155.7) scale(0.96,1)" font-size="8.6" font-weight="bold" text-anchor="middle" fill="#1a1a1a" color="#1a1a1a">0.2</text>
<path d="M393.26,141.3 V145.8" stroke="#000" stroke-width="1.5"/>
<text transform="translate(393.26,155.7) scale(0.96,1)" font-size="8.6" font-weight="bold" text-anchor="middle" fill="#1a1a1a" color="#1a1a1a">0.4</text>
<path d="M426.44,141.3 V145.8" stroke="#000" stroke-width="1.5"/>
<text transform="translate(426.44,155.7) scale(0.96,1)" font-size="8.6" font-weight="bold" text-anchor="middle" fill="#1a1a1a" color="#1a1a1a">0.6</text>
<path d="M459.62,141.3 V145.8" stroke="#000" stroke-width="1.5"/>
<text transform="translate(459.62,155.7) scale(0.96,1)" font-size="8.6" font-weight="bold" text-anchor="middle" fill="#1a1a1a" color="#1a1a1a">0.8</text>
<path d="M492.8,141.3 V145.8" stroke="#000" stroke-width="1.5"/>
<text transform="translate(492.8,155.7) scale(0.96,1)" font-size="8.6" font-weight="bold" text-anchor="middle" fill="#1a1a1a" color="#1a1a1a">1.0</text>
<text transform="translate(304.9,18.2) scale(0.95,1)" font-size="10.2" font-weight="bold" text-anchor="start" fill="#1a1a1a" color="#1a1a1a">(b)</text>
<text x="409.6" y="167.9" font-size="9" font-weight="bold" text-anchor="middle" fill="#1a1a1a" color="#1a1a1a" letter-spacing="0.12">Volume (mL)</text>
<text transform="translate(301.4,86.2) rotate(-90)" x="0" y="0" font-size="9" font-weight="bold" text-anchor="middle" fill="#1a1a1a" color="#1a1a1a">Airway Resistance (hPa.s.L<tspan font-size="5.5" dy="-3.3">-1</tspan><tspan dy="3.3">)</tspan></text>
<path d="M395.1,74.6 L395.8,77.7 L397.4,82.3 L398.9,86.9 L400.5,91.5 L403,97.3 L405.8,102.2 L408.5,106.3 L411.3,111.2 L413.4,113.9 L416.9,115.7 L422.4,118.1 L428,120.9 L430.7,122.2 L433.5,121.5 L436.5,124.1 L442,123.5 L447.4,126.3 L454,127.4 L459.4,126.8 L464.9,127.9 L470.3,129.5 L474.2,127.9 L476.9,134.2 L480.2,135.3 L483.4,128.4 L486.2,126.8" fill="none" stroke="#ff9a0a" stroke-width="1.8" stroke-linejoin="round" stroke-linecap="round"/>
<circle cx="395.1" cy="74.6" r="1.6" fill="#ff9a0a"/>
<circle cx="395.8" cy="77.7" r="1.6" fill="#ff9a0a"/>
<circle cx="397.4" cy="82.3" r="1.6" fill="#ff9a0a"/>
<circle cx="398.9" cy="86.9" r="1.6" fill="#ff9a0a"/>
<circle cx="400.5" cy="91.5" r="1.6" fill="#ff9a0a"/>
<circle cx="403" cy="97.3" r="1.6" fill="#ff9a0a"/>
<circle cx="405.8" cy="102.2" r="1.6" fill="#ff9a0a"/>
<circle cx="408.5" cy="106.3" r="1.6" fill="#ff9a0a"/>
<circle cx="411.3" cy="111.2" r="1.6" fill="#ff9a0a"/>
<circle cx="413.4" cy="113.9" r="1.6" fill="#ff9a0a"/>
<circle cx="416.9" cy="115.7" r="1.6" fill="#ff9a0a"/>
<circle cx="422.4" cy="118.1" r="1.6" fill="#ff9a0a"/>
<circle cx="428" cy="120.9" r="1.6" fill="#ff9a0a"/>
<circle cx="430.7" cy="122.2" r="1.6" fill="#ff9a0a"/>
<circle cx="433.5" cy="121.5" r="1.6" fill="#ff9a0a"/>
<circle cx="436.5" cy="124.1" r="1.6" fill="#ff9a0a"/>
<circle cx="442" cy="123.5" r="1.6" fill="#ff9a0a"/>
<circle cx="447.4" cy="126.3" r="1.6" fill="#ff9a0a"/>
<circle cx="454" cy="127.4" r="1.6" fill="#ff9a0a"/>
<circle cx="459.4" cy="126.8" r="1.6" fill="#ff9a0a"/>
<circle cx="464.9" cy="127.9" r="1.6" fill="#ff9a0a"/>
<circle cx="470.3" cy="129.5" r="1.6" fill="#ff9a0a"/>
<circle cx="474.2" cy="127.9" r="1.6" fill="#ff9a0a"/>
<circle cx="476.9" cy="134.2" r="1.6" fill="#ff9a0a"/>
<circle cx="480.2" cy="135.3" r="1.6" fill="#ff9a0a"/>
<circle cx="483.4" cy="128.4" r="1.6" fill="#ff9a0a"/>
<circle cx="486.2" cy="126.8" r="1.6" fill="#ff9a0a"/>
<path d="M376.8,71.8 L376.9,74.6 L377.3,78.5 L378.6,83.8 L380.7,90 L383.6,95.4 L387,98.9 L392,104 L396.5,107 L401,109.5 L406,112 L411.5,114.8 L417,116.8 L422.4,118.2 L428,119.5 L432.2,119.2 L438.7,119.5 L445.3,119.2 L451.8,120.3 L455.1,121.4 L459.4,122.4 L462.7,123.5 L466,123 L469.8,122.2 L471.4,123" fill="none" stroke="#ff1010" stroke-width="1.6" stroke-linejoin="round" stroke-linecap="round"/>
<circle cx="376.8" cy="71.8" r="1.5" fill="#ff1010"/>
<circle cx="376.9" cy="74.6" r="1.5" fill="#ff1010"/>
<circle cx="377.3" cy="78.5" r="1.5" fill="#ff1010"/>
<circle cx="378.6" cy="83.8" r="1.5" fill="#ff1010"/>
<circle cx="380.7" cy="90" r="1.5" fill="#ff1010"/>
<circle cx="383.6" cy="95.4" r="1.5" fill="#ff1010"/>
<circle cx="387" cy="98.9" r="1.5" fill="#ff1010"/>
<circle cx="392" cy="104" r="1.5" fill="#ff1010"/>
<circle cx="396.5" cy="107" r="1.5" fill="#ff1010"/>
<circle cx="401" cy="109.5" r="1.5" fill="#ff1010"/>
<circle cx="406" cy="112" r="1.5" fill="#ff1010"/>
<circle cx="411.5" cy="114.8" r="1.5" fill="#ff1010"/>
<circle cx="417" cy="116.8" r="1.5" fill="#ff1010"/>
<circle cx="422.4" cy="118.2" r="1.5" fill="#ff1010"/>
<circle cx="428" cy="119.5" r="1.5" fill="#ff1010"/>
<circle cx="432.2" cy="119.2" r="1.5" fill="#ff1010"/>
<circle cx="438.7" cy="119.5" r="1.5" fill="#ff1010"/>
<circle cx="445.3" cy="119.2" r="1.5" fill="#ff1010"/>
<circle cx="451.8" cy="120.3" r="1.5" fill="#ff1010"/>
<circle cx="455.1" cy="121.4" r="1.5" fill="#ff1010"/>
<circle cx="459.4" cy="122.4" r="1.5" fill="#ff1010"/>
<circle cx="462.7" cy="123.5" r="1.5" fill="#ff1010"/>
<circle cx="466" cy="123" r="1.5" fill="#ff1010"/>
<circle cx="469.8" cy="122.2" r="1.5" fill="#ff1010"/>
<circle cx="471.4" cy="123" r="1.5" fill="#ff1010"/>
<path d="M378.2,61.5 L384.3,56.9 L385.1,64.2 L380.2,66 L379.5,65.4 L379.7,70 L381,74.6 L382,80 L383.5,84.6 L385.6,90 L387.8,93.9 L390.5,96.6 L394.7,101.5 L398.8,104.2 L404.4,107 L410,111.2 L415.5,113.2 L421,114.6 L426.5,115.7 L430,116.5 L436.5,117.9 L443.1,117.9 L448.5,117.9 L455.1,118.1 L459.4,118.1 L462.7,120.3 L466,122.2 L470.3,123.5 L473.6,124.4" fill="none" stroke="#a6a6a6" stroke-width="2.1" stroke-linejoin="round" stroke-linecap="round"/>
<circle cx="378.2" cy="61.5" r="1.95" fill="#a6a6a6"/>
<circle cx="384.3" cy="56.9" r="1.95" fill="#a6a6a6"/>
<circle cx="385.1" cy="64.2" r="1.95" fill="#a6a6a6"/>
<circle cx="380.2" cy="66" r="1.95" fill="#a6a6a6"/>
<circle cx="379.5" cy="65.4" r="1.95" fill="#a6a6a6"/>
<circle cx="379.7" cy="70" r="1.95" fill="#a6a6a6"/>
<circle cx="381" cy="74.6" r="1.95" fill="#a6a6a6"/>
<circle cx="382" cy="80" r="1.95" fill="#a6a6a6"/>
<circle cx="383.5" cy="84.6" r="1.95" fill="#a6a6a6"/>
<circle cx="385.6" cy="90" r="1.95" fill="#a6a6a6"/>
<circle cx="387.8" cy="93.9" r="1.95" fill="#a6a6a6"/>
<circle cx="390.5" cy="96.6" r="1.95" fill="#a6a6a6"/>
<circle cx="394.7" cy="101.5" r="1.95" fill="#a6a6a6"/>
<circle cx="398.8" cy="104.2" r="1.95" fill="#a6a6a6"/>
<circle cx="404.4" cy="107" r="1.95" fill="#a6a6a6"/>
<circle cx="410" cy="111.2" r="1.95" fill="#a6a6a6"/>
<circle cx="415.5" cy="113.2" r="1.95" fill="#a6a6a6"/>
<circle cx="421" cy="114.6" r="1.95" fill="#a6a6a6"/>
<circle cx="426.5" cy="115.7" r="1.95" fill="#a6a6a6"/>
<circle cx="430" cy="116.5" r="1.95" fill="#a6a6a6"/>
<circle cx="436.5" cy="117.9" r="1.95" fill="#a6a6a6"/>
<circle cx="443.1" cy="117.9" r="1.95" fill="#a6a6a6"/>
<circle cx="448.5" cy="117.9" r="1.95" fill="#a6a6a6"/>
<circle cx="455.1" cy="118.1" r="1.95" fill="#a6a6a6"/>
<circle cx="459.4" cy="118.1" r="1.95" fill="#a6a6a6"/>
<circle cx="462.7" cy="120.3" r="1.95" fill="#a6a6a6"/>
<circle cx="466" cy="122.2" r="1.95" fill="#a6a6a6"/>
<circle cx="470.3" cy="123.5" r="1.95" fill="#a6a6a6"/>
<circle cx="473.6" cy="124.4" r="1.95" fill="#a6a6a6"/>
<path d="M366.6,81.5 L373.5,79.2 L375.1,73.1 L375.8,76.2 L377.4,80 L378.9,85.4 L380.5,90 L382.8,94.6 L385.8,98.5 L387.8,100 L391.9,105.6 L396,107.7 L400.2,109.8 L405.8,112.5 L411.3,115.3 L416.9,117.1 L422.4,118.5 L428,120.2 L430,118.6 L434.4,121.4 L440.9,121.1 L446.4,119.7 L450.7,120.8 L455.1,123.5 L458.4,124.4 L462.7,124.6 L466,125.7 L468.7,127.4" fill="none" stroke="#000000" stroke-width="1.8" stroke-linejoin="round" stroke-linecap="round"/>
<circle cx="366.6" cy="81.5" r="1.5" fill="#000000"/>
<circle cx="373.5" cy="79.2" r="1.5" fill="#000000"/>
<circle cx="375.1" cy="73.1" r="1.5" fill="#000000"/>
<circle cx="375.8" cy="76.2" r="1.5" fill="#000000"/>
<circle cx="377.4" cy="80" r="1.5" fill="#000000"/>
<circle cx="378.9" cy="85.4" r="1.5" fill="#000000"/>
<circle cx="380.5" cy="90" r="1.5" fill="#000000"/>
<circle cx="382.8" cy="94.6" r="1.5" fill="#000000"/>
<circle cx="385.8" cy="98.5" r="1.5" fill="#000000"/>
<circle cx="387.8" cy="100" r="1.5" fill="#000000"/>
<circle cx="391.9" cy="105.6" r="1.5" fill="#000000"/>
<circle cx="396" cy="107.7" r="1.5" fill="#000000"/>
<circle cx="400.2" cy="109.8" r="1.5" fill="#000000"/>
<circle cx="405.8" cy="112.5" r="1.5" fill="#000000"/>
<circle cx="411.3" cy="115.3" r="1.5" fill="#000000"/>
<circle cx="416.9" cy="117.1" r="1.5" fill="#000000"/>
<circle cx="422.4" cy="118.5" r="1.5" fill="#000000"/>
<circle cx="428" cy="120.2" r="1.5" fill="#000000"/>
<circle cx="430" cy="118.6" r="1.5" fill="#000000"/>
<circle cx="434.4" cy="121.4" r="1.5" fill="#000000"/>
<circle cx="440.9" cy="121.1" r="1.5" fill="#000000"/>
<circle cx="446.4" cy="119.7" r="1.5" fill="#000000"/>
<circle cx="450.7" cy="120.8" r="1.5" fill="#000000"/>
<circle cx="455.1" cy="123.5" r="1.5" fill="#000000"/>
<circle cx="458.4" cy="124.4" r="1.5" fill="#000000"/>
<circle cx="462.7" cy="124.6" r="1.5" fill="#000000"/>
<circle cx="466" cy="125.7" r="1.5" fill="#000000"/>
<circle cx="468.7" cy="127.4" r="1.5" fill="#000000"/>
<circle cx="375.2" cy="73.5" r="1.9" fill="#000"/>
<circle cx="374.8" cy="76.5" r="1.9" fill="#000"/>
<circle cx="376.3" cy="79" r="1.9" fill="#000"/>
<path d="M487,32.8 H499.1" stroke="#a6a6a6" stroke-width="1.0"/>
<circle cx="493.05" cy="32.8" r="1.45" fill="#a6a6a6"/>
<text transform="translate(505.6,36) scale(0.97,1)" font-size="9" font-weight="normal" text-anchor="start" fill="#222" color="#222">Air</text>
<path d="M487,47.9 H499.1" stroke="#000000" stroke-width="1.0"/>
<circle cx="493.05" cy="47.9" r="1.45" fill="#000000"/>
<text transform="translate(505.6,51.1) scale(0.97,1)" font-size="9" font-weight="normal" text-anchor="start" fill="#222" color="#222">ULSD</text>
<path d="M487,62.8 H499.1" stroke="#ff9a0a" stroke-width="1.0"/>
<circle cx="493.05" cy="62.8" r="1.45" fill="#ff9a0a"/>
<text transform="translate(505.6,66) scale(0.97,1)" font-size="9" font-weight="normal" text-anchor="start" fill="#222" color="#222">Canola<tspan letter-spacing="0.6">*</tspan>*</text>
<path d="M487,78 H499.1" stroke="#ff1010" stroke-width="1.0"/>
<circle cx="493.05" cy="78" r="1.45" fill="#ff1010"/>
<text transform="translate(505.6,81.2) scale(0.97,1)" font-size="9" font-weight="normal" text-anchor="start" fill="#222" color="#222">Tallow</text>
<path d="M50.5,180.1 V296 M46,291.5 H217" stroke="#000" stroke-width="1.5" fill="none"/>
<path d="M46,291.5 H50.5" stroke="#000" stroke-width="1.5"/>
<text transform="translate(44.1,294.6) scale(0.96,1)" font-size="8.6" font-weight="bold" text-anchor="end" fill="#1a1a1a" color="#1a1a1a">0</text>
<path d="M46,263.65 H50.5" stroke="#000" stroke-width="1.5"/>
<text transform="translate(44.1,266.75) scale(0.96,1)" font-size="8.6" font-weight="bold" text-anchor="end" fill="#1a1a1a" color="#1a1a1a">5000</text>
<path d="M46,235.8 H50.5" stroke="#000" stroke-width="1.5"/>
<text transform="translate(44.1,238.9) scale(0.96,1)" font-size="8.6" font-weight="bold" text-anchor="end" fill="#1a1a1a" color="#1a1a1a">10,000</text>
<path d="M46,207.95 H50.5" stroke="#000" stroke-width="1.5"/>
<text transform="translate(44.1,211.05) scale(0.96,1)" font-size="8.6" font-weight="bold" text-anchor="end" fill="#1a1a1a" color="#1a1a1a">15,000</text>
<path d="M46,180.1 H50.5" stroke="#000" stroke-width="1.5"/>
<text transform="translate(44.1,183.2) scale(0.96,1)" font-size="8.6" font-weight="bold" text-anchor="end" fill="#1a1a1a" color="#1a1a1a">20,000</text>
<path d="M50.5,291.5 V296" stroke="#000" stroke-width="1.5"/>
<text transform="translate(50.5,305.9) scale(0.96,1)" font-size="8.6" font-weight="bold" text-anchor="middle" fill="#1a1a1a" color="#1a1a1a">0.0</text>
<path d="M83.8,291.5 V296" stroke="#000" stroke-width="1.5"/>
<text transform="translate(83.8,305.9) scale(0.96,1)" font-size="8.6" font-weight="bold" text-anchor="middle" fill="#1a1a1a" color="#1a1a1a">0.2</text>
<path d="M117.1,291.5 V296" stroke="#000" stroke-width="1.5"/>
<text transform="translate(117.1,305.9) scale(0.96,1)" font-size="8.6" font-weight="bold" text-anchor="middle" fill="#1a1a1a" color="#1a1a1a">0.4</text>
<path d="M150.4,291.5 V296" stroke="#000" stroke-width="1.5"/>
<text transform="translate(150.4,305.9) scale(0.96,1)" font-size="8.6" font-weight="bold" text-anchor="middle" fill="#1a1a1a" color="#1a1a1a">0.6</text>
<path d="M183.7,291.5 V296" stroke="#000" stroke-width="1.5"/>
<text transform="translate(183.7,305.9) scale(0.96,1)" font-size="8.6" font-weight="bold" text-anchor="middle" fill="#1a1a1a" color="#1a1a1a">0.8</text>
<path d="M217,291.5 V296" stroke="#000" stroke-width="1.5"/>
<text transform="translate(217,305.9) scale(0.96,1)" font-size="8.6" font-weight="bold" text-anchor="middle" fill="#1a1a1a" color="#1a1a1a">1.0</text>
<text transform="translate(31.3,171.1) scale(0.95,1)" font-size="10.2" font-weight="bold" text-anchor="start" fill="#1a1a1a" color="#1a1a1a">(c)</text>
<text x="133.6" y="319.2" font-size="9" font-weight="bold" text-anchor="middle" fill="#1a1a1a" color="#1a1a1a">Volume (mL)</text>
<text transform="translate(13.2,236) rotate(-90)" x="0" y="0" font-size="9" font-weight="bold" text-anchor="middle" fill="#1a1a1a" color="#1a1a1a">Tissue Damping (hPa.L<tspan font-size="5.5" dy="-3.3">-1</tspan><tspan dy="3.3">)</tspan></text>
<path d="M118.1,240.1 L118.6,242.5 L120,244.6 L123.2,245.7 L127.3,246.7 L130.3,249.3 L132.4,251.8 L136.4,252.8 L140.5,254.9 L144.6,256.9 L148.6,258.2 L152.7,258.6" fill="none" stroke="#ff9a0a" stroke-width="2.6" stroke-linejoin="round" stroke-linecap="round"/>
<circle cx="118.1" cy="240.1" r="1.6" fill="#ff9a0a"/>
<circle cx="118.6" cy="242.5" r="1.6" fill="#ff9a0a"/>
<circle cx="120" cy="244.6" r="1.6" fill="#ff9a0a"/>
<circle cx="123.2" cy="245.7" r="1.6" fill="#ff9a0a"/>
<circle cx="127.3" cy="246.7" r="1.6" fill="#ff9a0a"/>
<circle cx="130.3" cy="249.3" r="1.6" fill="#ff9a0a"/>
<circle cx="132.4" cy="251.8" r="1.6" fill="#ff9a0a"/>
<circle cx="136.4" cy="252.8" r="1.6" fill="#ff9a0a"/>
<circle cx="140.5" cy="254.9" r="1.6" fill="#ff9a0a"/>
<circle cx="144.6" cy="256.9" r="1.6" fill="#ff9a0a"/>
<circle cx="148.6" cy="258.2" r="1.6" fill="#ff9a0a"/>
<circle cx="152.7" cy="258.6" r="1.6" fill="#ff9a0a"/>
<path d="M152.7,258.6 L156.7,258.9 L161,258.8 L165,258.7 L169,257.8 L173.3,257 L177.5,255.8 L181.6,254.5 L185,253 L188.3,251.2 L191,248 L193.3,244.5 L195.7,237.9 L198.2,231.3 L199.9,226.3 L201.5,221.3 L204,218.8 L207,218 L210,218.3" fill="none" stroke="#ff9a0a" stroke-width="1.3" stroke-linejoin="round" stroke-linecap="round"/>
<circle cx="152.7" cy="258.6" r="1.4" fill="#ff9a0a"/>
<circle cx="156.7" cy="258.9" r="1.4" fill="#ff9a0a"/>
<circle cx="161" cy="258.8" r="1.4" fill="#ff9a0a"/>
<circle cx="165" cy="258.7" r="1.4" fill="#ff9a0a"/>
<circle cx="169" cy="257.8" r="1.4" fill="#ff9a0a"/>
<circle cx="173.3" cy="257" r="1.4" fill="#ff9a0a"/>
<circle cx="177.5" cy="255.8" r="1.4" fill="#ff9a0a"/>
<circle cx="181.6" cy="254.5" r="1.4" fill="#ff9a0a"/>
<circle cx="185" cy="253" r="1.4" fill="#ff9a0a"/>
<circle cx="188.3" cy="251.2" r="1.4" fill="#ff9a0a"/>
<circle cx="191" cy="248" r="1.4" fill="#ff9a0a"/>
<circle cx="193.3" cy="244.5" r="1.4" fill="#ff9a0a"/>
<circle cx="195.7" cy="237.9" r="1.4" fill="#ff9a0a"/>
<circle cx="198.2" cy="231.3" r="1.4" fill="#ff9a0a"/>
<circle cx="199.9" cy="226.3" r="1.4" fill="#ff9a0a"/>
<circle cx="201.5" cy="221.3" r="1.4" fill="#ff9a0a"/>
<circle cx="204" cy="218.8" r="1.4" fill="#ff9a0a"/>
<circle cx="207" cy="218" r="1.4" fill="#ff9a0a"/>
<circle cx="210" cy="218.3" r="1.4" fill="#ff9a0a"/>
<path d="M118.3,240.5 L119.5,245" stroke="#ff9a0a" stroke-width="3" stroke-linecap="round"/>
<path d="M98.3,249.6 L101,251 L106,252 L112,253.3 L116.5,255 L121.2,256.6 L126.5,258 L132.4,258.9 L140.5,259.3 L145.5,259.3 L150.7,259 L154.7,257.9 L158.8,256.4 L165,252.8 L170,246.2 L173.3,242 L175.8,237.9 L178.3,232.9 L180.8,228.8 L184.1,223.8 L187.4,218.8 L189.9,216.3 L191.9,215" fill="none" stroke="#000000" stroke-width="1.3" stroke-linejoin="round" stroke-linecap="round"/>
<circle cx="98.3" cy="249.6" r="1.4" fill="#000000"/>
<circle cx="101" cy="251" r="1.4" fill="#000000"/>
<circle cx="106" cy="252" r="1.4" fill="#000000"/>
<circle cx="112" cy="253.3" r="1.4" fill="#000000"/>
<circle cx="116.5" cy="255" r="1.4" fill="#000000"/>
<circle cx="121.2" cy="256.6" r="1.4" fill="#000000"/>
<circle cx="126.5" cy="258" r="1.4" fill="#000000"/>
<circle cx="132.4" cy="258.9" r="1.4" fill="#000000"/>
<circle cx="140.5" cy="259.3" r="1.4" fill="#000000"/>
<circle cx="145.5" cy="259.3" r="1.4" fill="#000000"/>
<circle cx="150.7" cy="259" r="1.4" fill="#000000"/>
<circle cx="154.7" cy="257.9" r="1.4" fill="#000000"/>
<circle cx="158.8" cy="256.4" r="1.4" fill="#000000"/>
<circle cx="165" cy="252.8" r="1.4" fill="#000000"/>
<circle cx="170" cy="246.2" r="1.4" fill="#000000"/>
<circle cx="173.3" cy="242" r="1.4" fill="#000000"/>
<circle cx="175.8" cy="237.9" r="1.4" fill="#000000"/>
<circle cx="178.3" cy="232.9" r="1.4" fill="#000000"/>
<circle cx="180.8" cy="228.8" r="1.4" fill="#000000"/>
<circle cx="184.1" cy="223.8" r="1.4" fill="#000000"/>
<circle cx="187.4" cy="218.8" r="1.4" fill="#000000"/>
<circle cx="189.9" cy="216.3" r="1.4" fill="#000000"/>
<circle cx="191.9" cy="215" r="1.4" fill="#000000"/>
<path d="M104,255.5 L107,256 L110,256.6 L113.5,258.2 L117.1,259.6 L121,260.6 L125.2,261.6 L130,262.2 L135.4,262.7 L140.5,262.8 L145.6,262.7 L149,262.2 L152.7,261.6 L157,259.8 L161,258 L165,256.2 L168.5,253 L171.6,249.5 L175,245.4 L178.3,238.7 L180.8,233.7 L183.3,228.8 L185.8,224.6 L189.1,223 L192.4,221.6 L194.6,221.3" fill="none" stroke="#ff1010" stroke-width="1.4" stroke-linejoin="round" stroke-linecap="round"/>
<circle cx="104" cy="255.5" r="1.4" fill="#ff1010"/>
<circle cx="107" cy="256" r="1.4" fill="#ff1010"/>
<circle cx="110" cy="256.6" r="1.4" fill="#ff1010"/>
<circle cx="113.5" cy="258.2" r="1.4" fill="#ff1010"/>
<circle cx="117.1" cy="259.6" r="1.4" fill="#ff1010"/>
<circle cx="121" cy="260.6" r="1.4" fill="#ff1010"/>
<circle cx="125.2" cy="261.6" r="1.4" fill="#ff1010"/>
<circle cx="130" cy="262.2" r="1.4" fill="#ff1010"/>
<circle cx="135.4" cy="262.7" r="1.4" fill="#ff1010"/>
<circle cx="140.5" cy="262.8" r="1.4" fill="#ff1010"/>
<circle cx="145.6" cy="262.7" r="1.4" fill="#ff1010"/>
<circle cx="149" cy="262.2" r="1.4" fill="#ff1010"/>
<circle cx="152.7" cy="261.6" r="1.4" fill="#ff1010"/>
<circle cx="157" cy="259.8" r="1.4" fill="#ff1010"/>
<circle cx="161" cy="258" r="1.4" fill="#ff1010"/>
<circle cx="165" cy="256.2" r="1.4" fill="#ff1010"/>
<circle cx="168.5" cy="253" r="1.4" fill="#ff1010"/>
<circle cx="171.6" cy="249.5" r="1.4" fill="#ff1010"/>
<circle cx="175" cy="245.4" r="1.4" fill="#ff1010"/>
<circle cx="178.3" cy="238.7" r="1.4" fill="#ff1010"/>
<circle cx="180.8" cy="233.7" r="1.4" fill="#ff1010"/>
<circle cx="183.3" cy="228.8" r="1.4" fill="#ff1010"/>
<circle cx="185.8" cy="224.6" r="1.4" fill="#ff1010"/>
<circle cx="189.1" cy="223" r="1.4" fill="#ff1010"/>
<circle cx="192.4" cy="221.6" r="1.4" fill="#ff1010"/>
<circle cx="194.6" cy="221.3" r="1.4" fill="#ff1010"/>
<path d="M106,251 L110,252.5 L115,255.4 L120.2,258.2 L125,259.5 L130.3,260.5 L135.5,261.2 L140.5,261.5 L145.5,261.6 L150.7,261.5 L154,261.2 L157.8,260.5 L162,259 L166.7,257.8" fill="none" stroke="#a6a6a6" stroke-width="3.0" stroke-linejoin="round" stroke-linecap="round"/>
<circle cx="106" cy="251" r="1.8" fill="#a6a6a6"/>
<circle cx="110" cy="252.5" r="1.8" fill="#a6a6a6"/>
<circle cx="115" cy="255.4" r="1.8" fill="#a6a6a6"/>
<circle cx="120.2" cy="258.2" r="1.8" fill="#a6a6a6"/>
<circle cx="125" cy="259.5" r="1.8" fill="#a6a6a6"/>
<circle cx="130.3" cy="260.5" r="1.8" fill="#a6a6a6"/>
<circle cx="135.5" cy="261.2" r="1.8" fill="#a6a6a6"/>
<circle cx="140.5" cy="261.5" r="1.8" fill="#a6a6a6"/>
<circle cx="145.5" cy="261.6" r="1.8" fill="#a6a6a6"/>
<circle cx="150.7" cy="261.5" r="1.8" fill="#a6a6a6"/>
<circle cx="154" cy="261.2" r="1.8" fill="#a6a6a6"/>
<circle cx="157.8" cy="260.5" r="1.8" fill="#a6a6a6"/>
<circle cx="162" cy="259" r="1.8" fill="#a6a6a6"/>
<circle cx="166.7" cy="257.8" r="1.8" fill="#a6a6a6"/>
<path d="M166.7,257.8 L170,255.5 L173.3,252.8 L176,250 L178.3,247 L180,244 L181.6,241.2 L183.3,237.9 L184.9,232.9 L186.6,228.8 L189.1,224.6 L191.6,222.1 L194.9,219.3 L198.2,218" fill="none" stroke="#a6a6a6" stroke-width="1.6" stroke-linejoin="round" stroke-linecap="round"/>
<circle cx="166.7" cy="257.8" r="1.8" fill="#a6a6a6"/>
<circle cx="170" cy="255.5" r="1.8" fill="#a6a6a6"/>
<circle cx="173.3" cy="252.8" r="1.8" fill="#a6a6a6"/>
<circle cx="176" cy="250" r="1.8" fill="#a6a6a6"/>
<circle cx="178.3" cy="247" r="1.8" fill="#a6a6a6"/>
<circle cx="180" cy="244" r="1.8" fill="#a6a6a6"/>
<circle cx="181.6" cy="241.2" r="1.8" fill="#a6a6a6"/>
<circle cx="183.3" cy="237.9" r="1.8" fill="#a6a6a6"/>
<circle cx="184.9" cy="232.9" r="1.8" fill="#a6a6a6"/>
<circle cx="186.6" cy="228.8" r="1.8" fill="#a6a6a6"/>
<circle cx="189.1" cy="224.6" r="1.8" fill="#a6a6a6"/>
<circle cx="191.6" cy="222.1" r="1.8" fill="#a6a6a6"/>
<circle cx="194.9" cy="219.3" r="1.8" fill="#a6a6a6"/>
<circle cx="198.2" cy="218" r="1.8" fill="#a6a6a6"/>
<path d="M101,246.5 L108.5,245.6 L110.2,248 L107.5,250.2 L111.5,252 L112,255 L107,256.2 L102,256 L100.6,251.5 Z" fill="#a6a6a6" stroke="#a6a6a6" stroke-width="1.5" stroke-linejoin="round"/>
<circle cx="102.6" cy="245.3" r="1.3" fill="#ff1010"/>
<path d="M89.6,242.2 L98.6,244.6" stroke="#000" stroke-width="1.1"/>
<circle cx="89.6" cy="242.2" r="1.5" fill="#000"/>
<path d="M98.6,244.6 L100,247 L98.3,249.6" stroke="#000" stroke-width="2" fill="none"/>
<circle cx="98.6" cy="244.8" r="1.9" fill="#000"/>
<circle cx="98.2" cy="249.6" r="2.2" fill="#000"/>
<path d="M219.8,193.3 H231.3" stroke="#a6a6a6" stroke-width="1.0"/>
<circle cx="225.55" cy="193.3" r="1.45" fill="#a6a6a6"/>
<text transform="translate(237.9,196.5) scale(0.96,1)" font-size="9" font-weight="normal" text-anchor="start" fill="#222" color="#222">Air</text>
<path d="M219.8,208.4 H231.3" stroke="#000000" stroke-width="1.0"/>
<circle cx="225.55" cy="208.4" r="1.45" fill="#000000"/>
<text transform="translate(237.9,211.6) scale(0.96,1)" font-size="9" font-weight="normal" text-anchor="start" fill="#222" color="#222">ULSD</text>
<path d="M219.8,223.5 H231.3" stroke="#ff9a0a" stroke-width="1.0"/>
<circle cx="225.55" cy="223.5" r="1.45" fill="#ff9a0a"/>
<text transform="translate(237.9,226.7) scale(0.96,1)" font-size="9" font-weight="normal" text-anchor="start" fill="#222" color="#222">Canola</text>
<path d="M219.8,238.5 H231.3" stroke="#ff1010" stroke-width="1.0"/>
<circle cx="225.55" cy="238.5" r="1.45" fill="#ff1010"/>
<text transform="translate(237.9,241.7) scale(0.96,1)" font-size="9" font-weight="normal" text-anchor="start" fill="#222" color="#222">Tallow</text>
<path d="M264,188.4 V209" stroke="#111" stroke-width="1.6"/>
<text x="266.6" y="201" font-size="7" font-weight="normal" text-anchor="start" fill="#222" color="#222">*</text>
<path d="M328.5,184.4 V296.1 M324,291.6 H488.8" stroke="#000" stroke-width="1.5" fill="none"/>
<path d="M324,291.6 H328.5" stroke="#000" stroke-width="1.5"/>
<text transform="translate(322.1,294.7) scale(0.925,1)" font-size="8.6" font-weight="bold" text-anchor="end" fill="#1a1a1a" color="#1a1a1a">0</text>
<path d="M324,255.87 H328.5" stroke="#000" stroke-width="1.5"/>
<text transform="translate(322.1,258.97) scale(0.925,1)" font-size="8.6" font-weight="bold" text-anchor="end" fill="#1a1a1a" color="#1a1a1a">50,000</text>
<path d="M324,220.13 H328.5" stroke="#000" stroke-width="1.5"/>
<text transform="translate(322.1,223.23) scale(0.925,1)" font-size="8.6" font-weight="bold" text-anchor="end" fill="#1a1a1a" color="#1a1a1a">100,000</text>
<path d="M324,184.4 H328.5" stroke="#000" stroke-width="1.5"/>
<text transform="translate(322.1,187.5) scale(0.925,1)" font-size="8.6" font-weight="bold" text-anchor="end" fill="#1a1a1a" color="#1a1a1a">150,000</text>
<path d="M328.5,291.6 V296.1" stroke="#000" stroke-width="1.5"/>
<text transform="translate(328.5,306) scale(0.925,1)" font-size="8.6" font-weight="bold" text-anchor="middle" fill="#1a1a1a" color="#1a1a1a">0.0</text>
<path d="M360.56,291.6 V296.1" stroke="#000" stroke-width="1.5"/>
<text transform="translate(360.56,306) scale(0.925,1)" font-size="8.6" font-weight="bold" text-anchor="middle" fill="#1a1a1a" color="#1a1a1a">0.2</text>
<path d="M392.62,291.6 V296.1" stroke="#000" stroke-width="1.5"/>
<text transform="translate(392.62,306) scale(0.925,1)" font-size="8.6" font-weight="bold" text-anchor="middle" fill="#1a1a1a" color="#1a1a1a">0.4</text>
<path d="M424.68,291.6 V296.1" stroke="#000" stroke-width="1.5"/>
<text transform="translate(424.68,306) scale(0.925,1)" font-size="8.6" font-weight="bold" text-anchor="middle" fill="#1a1a1a" color="#1a1a1a">0.6</text>
<path d="M456.74,291.6 V296.1" stroke="#000" stroke-width="1.5"/>
<text transform="translate(456.74,306) scale(0.925,1)" font-size="8.6" font-weight="bold" text-anchor="middle" fill="#1a1a1a" color="#1a1a1a">0.8</text>
<path d="M488.8,291.6 V296.1" stroke="#000" stroke-width="1.5"/>
<text transform="translate(488.8,306) scale(0.925,1)" font-size="8.6" font-weight="bold" text-anchor="middle" fill="#1a1a1a" color="#1a1a1a">1.0</text>
<text transform="translate(305.5,171.1) scale(0.95,1)" font-size="10.2" font-weight="bold" text-anchor="start" fill="#1a1a1a" color="#1a1a1a">(d)</text>
<text transform="translate(408.6,318.1) scale(0.97,1)" font-size="9" font-weight="bold" text-anchor="middle" fill="#1a1a1a" color="#1a1a1a">Volume (mL)</text>
<text transform="translate(288.4,237.2) rotate(-90)" x="0" y="0" font-size="9" font-weight="bold" text-anchor="middle" fill="#1a1a1a" color="#1a1a1a">Tissue Elastance (hPa.L<tspan font-size="5.5" dy="-3.3">-1</tspan><tspan dy="3.3">)</tspan></text>
<path d="M394.7,264.9 L396.5,267 L400.7,270.5 L405.4,273.2 L410,276 L415,277.5 L420,278.3 L425,278.8" fill="none" stroke="#ff9a0a" stroke-width="2.4" stroke-linejoin="round" stroke-linecap="round"/>
<circle cx="394.7" cy="264.9" r="1.6" fill="#ff9a0a"/>
<circle cx="396.5" cy="267" r="1.6" fill="#ff9a0a"/>
<circle cx="400.7" cy="270.5" r="1.6" fill="#ff9a0a"/>
<circle cx="405.4" cy="273.2" r="1.6" fill="#ff9a0a"/>
<circle cx="410" cy="276" r="1.6" fill="#ff9a0a"/>
<circle cx="415" cy="277.5" r="1.6" fill="#ff9a0a"/>
<circle cx="420" cy="278.3" r="1.6" fill="#ff9a0a"/>
<circle cx="425" cy="278.8" r="1.6" fill="#ff9a0a"/>
<path d="M425,278.8 L430,279.3 L435,279.2 L440,278.9 L445,278.7 L449.9,278.4 L453.5,277 L457.2,275.2 L460.5,273 L463.4,270.3 L467.1,264.1 L469.6,258 L471.5,250.6 L473.3,241.9 L475,234.6 L476.9,227.2 L478.7,218.5 L480.1,213.6 L482.4,208.7" fill="none" stroke="#ff9a0a" stroke-width="1.3" stroke-linejoin="round" stroke-linecap="round"/>
<circle cx="425" cy="278.8" r="1.4" fill="#ff9a0a"/>
<circle cx="430" cy="279.3" r="1.4" fill="#ff9a0a"/>
<circle cx="435" cy="279.2" r="1.4" fill="#ff9a0a"/>
<circle cx="440" cy="278.9" r="1.4" fill="#ff9a0a"/>
<circle cx="445" cy="278.7" r="1.4" fill="#ff9a0a"/>
<circle cx="449.9" cy="278.4" r="1.4" fill="#ff9a0a"/>
<circle cx="453.5" cy="277" r="1.4" fill="#ff9a0a"/>
<circle cx="457.2" cy="275.2" r="1.4" fill="#ff9a0a"/>
<circle cx="460.5" cy="273" r="1.4" fill="#ff9a0a"/>
<circle cx="463.4" cy="270.3" r="1.4" fill="#ff9a0a"/>
<circle cx="467.1" cy="264.1" r="1.4" fill="#ff9a0a"/>
<circle cx="469.6" cy="258" r="1.4" fill="#ff9a0a"/>
<circle cx="471.5" cy="250.6" r="1.4" fill="#ff9a0a"/>
<circle cx="473.3" cy="241.9" r="1.4" fill="#ff9a0a"/>
<circle cx="475" cy="234.6" r="1.4" fill="#ff9a0a"/>
<circle cx="476.9" cy="227.2" r="1.4" fill="#ff9a0a"/>
<circle cx="478.7" cy="218.5" r="1.4" fill="#ff9a0a"/>
<circle cx="480.1" cy="213.6" r="1.4" fill="#ff9a0a"/>
<circle cx="482.4" cy="208.7" r="1.4" fill="#ff9a0a"/>
<path d="M394.5,265 L397.5,267.5" stroke="#ff9a0a" stroke-width="3.2" stroke-linecap="round"/>
<path d="M378,270 L381,271.2 L385,273.5 L389.7,275.6 L395,277 L400,278.1 L405,278.8 L410,279.3 L415,279.5 L420,279.5 L425,279.2 L430,279.2 L435,278.2 L440,275.2 L444.9,269 L448.6,262.9 L451.8,256.7 L454.3,249.3 L457.2,237 L459.7,228.4 L462.2,222.2 L464.6,218.5 L466.6,218.5" fill="none" stroke="#000000" stroke-width="1.3" stroke-linejoin="round" stroke-linecap="round"/>
<circle cx="378" cy="270" r="1.4" fill="#000000"/>
<circle cx="381" cy="271.2" r="1.4" fill="#000000"/>
<circle cx="385" cy="273.5" r="1.4" fill="#000000"/>
<circle cx="389.7" cy="275.6" r="1.4" fill="#000000"/>
<circle cx="395" cy="277" r="1.4" fill="#000000"/>
<circle cx="400" cy="278.1" r="1.4" fill="#000000"/>
<circle cx="405" cy="278.8" r="1.4" fill="#000000"/>
<circle cx="410" cy="279.3" r="1.4" fill="#000000"/>
<circle cx="415" cy="279.5" r="1.4" fill="#000000"/>
<circle cx="420" cy="279.5" r="1.4" fill="#000000"/>
<circle cx="425" cy="279.2" r="1.4" fill="#000000"/>
<circle cx="430" cy="279.2" r="1.4" fill="#000000"/>
<circle cx="435" cy="278.2" r="1.4" fill="#000000"/>
<circle cx="440" cy="275.2" r="1.4" fill="#000000"/>
<circle cx="444.9" cy="269" r="1.4" fill="#000000"/>
<circle cx="448.6" cy="262.9" r="1.4" fill="#000000"/>
<circle cx="451.8" cy="256.7" r="1.4" fill="#000000"/>
<circle cx="454.3" cy="249.3" r="1.4" fill="#000000"/>
<circle cx="457.2" cy="237" r="1.4" fill="#000000"/>
<circle cx="459.7" cy="228.4" r="1.4" fill="#000000"/>
<circle cx="462.2" cy="222.2" r="1.4" fill="#000000"/>
<circle cx="464.6" cy="218.5" r="1.4" fill="#000000"/>
<circle cx="466.6" cy="218.5" r="1.4" fill="#000000"/>
<path d="M376.8,270.9 L380,273.5 L385,276 L391.5,278.3 L398.9,280 L405.4,280.6 L412,281 L418,281.2 L424,281 L430,280.4 L436,278.5 L440,276.4 L447.4,269 L452.3,259.2 L456,246.9 L459.7,234.6 L462.2,227.2 L464.6,221 L467.1,219.8" fill="none" stroke="#ff1010" stroke-width="1.4" stroke-linejoin="round" stroke-linecap="round"/>
<circle cx="376.8" cy="270.9" r="1.4" fill="#ff1010"/>
<circle cx="380" cy="273.5" r="1.4" fill="#ff1010"/>
<circle cx="385" cy="276" r="1.4" fill="#ff1010"/>
<circle cx="391.5" cy="278.3" r="1.4" fill="#ff1010"/>
<circle cx="398.9" cy="280" r="1.4" fill="#ff1010"/>
<circle cx="405.4" cy="280.6" r="1.4" fill="#ff1010"/>
<circle cx="412" cy="281" r="1.4" fill="#ff1010"/>
<circle cx="418" cy="281.2" r="1.4" fill="#ff1010"/>
<circle cx="424" cy="281" r="1.4" fill="#ff1010"/>
<circle cx="430" cy="280.4" r="1.4" fill="#ff1010"/>
<circle cx="436" cy="278.5" r="1.4" fill="#ff1010"/>
<circle cx="440" cy="276.4" r="1.4" fill="#ff1010"/>
<circle cx="447.4" cy="269" r="1.4" fill="#ff1010"/>
<circle cx="452.3" cy="259.2" r="1.4" fill="#ff1010"/>
<circle cx="456" cy="246.9" r="1.4" fill="#ff1010"/>
<circle cx="459.7" cy="234.6" r="1.4" fill="#ff1010"/>
<circle cx="462.2" cy="227.2" r="1.4" fill="#ff1010"/>
<circle cx="464.6" cy="221" r="1.4" fill="#ff1010"/>
<circle cx="467.1" cy="219.8" r="1.4" fill="#ff1010"/>
<path d="M383.2,272.3 L387.8,275.1 L392.4,276.9 L397,277.8 L401.7,278.8 L406.3,279.4 L410.9,280 L416,280.4 L421,280.6 L426,280.6 L431,280.5 L436,280.2 L442.5,278.4 L446,275.5" fill="none" stroke="#a6a6a6" stroke-width="3.0" stroke-linejoin="round" stroke-linecap="round"/>
<circle cx="383.2" cy="272.3" r="1.8" fill="#a6a6a6"/>
<circle cx="387.8" cy="275.1" r="1.8" fill="#a6a6a6"/>
<circle cx="392.4" cy="276.9" r="1.8" fill="#a6a6a6"/>
<circle cx="397" cy="277.8" r="1.8" fill="#a6a6a6"/>
<circle cx="401.7" cy="278.8" r="1.8" fill="#a6a6a6"/>
<circle cx="406.3" cy="279.4" r="1.8" fill="#a6a6a6"/>
<circle cx="410.9" cy="280" r="1.8" fill="#a6a6a6"/>
<circle cx="416" cy="280.4" r="1.8" fill="#a6a6a6"/>
<circle cx="421" cy="280.6" r="1.8" fill="#a6a6a6"/>
<circle cx="426" cy="280.6" r="1.8" fill="#a6a6a6"/>
<circle cx="431" cy="280.5" r="1.8" fill="#a6a6a6"/>
<circle cx="436" cy="280.2" r="1.8" fill="#a6a6a6"/>
<circle cx="442.5" cy="278.4" r="1.8" fill="#a6a6a6"/>
<circle cx="446" cy="275.5" r="1.8" fill="#a6a6a6"/>
<path d="M446,275.5 L449.9,271.5 L452.5,267 L454.8,261.7 L456.7,255.5 L458.5,249.3 L460.9,239.5 L463.4,232.1 L465.9,225.9 L468.3,221 L470.8,219.3" fill="none" stroke="#a6a6a6" stroke-width="1.6" stroke-linejoin="round" stroke-linecap="round"/>
<circle cx="446" cy="275.5" r="1.8" fill="#a6a6a6"/>
<circle cx="449.9" cy="271.5" r="1.8" fill="#a6a6a6"/>
<circle cx="452.5" cy="267" r="1.8" fill="#a6a6a6"/>
<circle cx="454.8" cy="261.7" r="1.8" fill="#a6a6a6"/>
<circle cx="456.7" cy="255.5" r="1.8" fill="#a6a6a6"/>
<circle cx="458.5" cy="249.3" r="1.8" fill="#a6a6a6"/>
<circle cx="460.9" cy="239.5" r="1.8" fill="#a6a6a6"/>
<circle cx="463.4" cy="232.1" r="1.8" fill="#a6a6a6"/>
<circle cx="465.9" cy="225.9" r="1.8" fill="#a6a6a6"/>
<circle cx="468.3" cy="221" r="1.8" fill="#a6a6a6"/>
<circle cx="470.8" cy="219.3" r="1.8" fill="#a6a6a6"/>
<path d="M375.5,265.5 L381,265.5 L383.5,268.5 L384,273 L380,274 L376,270.5 Z" fill="#a6a6a6" stroke="#a6a6a6" stroke-width="1.5" stroke-linejoin="round"/>
<path d="M366.2,269.3 L374,268.9" stroke="#000" stroke-width="1.1"/>
<circle cx="366.2" cy="269.3" r="1.5" fill="#000"/>
<path d="M374,268.9 L374.8,265.6 L376,266.2 L376.4,269" stroke="#000" stroke-width="2" fill="none" stroke-linejoin="round"/>
<circle cx="375" cy="266" r="1.8" fill="#000"/>
<circle cx="374.6" cy="268.6" r="1.6" fill="#000"/>
<path d="M495.2,190.5 H506.5" stroke="#a6a6a6" stroke-width="1.0"/>
<circle cx="500.85" cy="190.5" r="1.45" fill="#a6a6a6"/>
<text transform="translate(512.6,193.7) scale(0.96,1)" font-size="9" font-weight="normal" text-anchor="start" fill="#222" color="#222">Air</text>
<path d="M495.2,205 H506.5" stroke="#000000" stroke-width="1.0"/>
<circle cx="500.85" cy="205" r="1.45" fill="#000000"/>
<text transform="translate(512.6,208.2) scale(0.96,1)" font-size="9" font-weight="normal" text-anchor="start" fill="#222" color="#222">ULSD</text>
<path d="M495.2,219.5 H506.5" stroke="#ff9a0a" stroke-width="1.0"/>
<circle cx="500.85" cy="219.5" r="1.45" fill="#ff9a0a"/>
<text transform="translate(512.6,222.7) scale(0.96,1)" font-size="9" font-weight="normal" text-anchor="start" fill="#222" color="#222">Canola</text>
<path d="M495.2,234.1 H506.5" stroke="#ff1010" stroke-width="1.0"/>
<circle cx="500.85" cy="234.1" r="1.45" fill="#ff1010"/>
<text transform="translate(512.6,237.3) scale(0.96,1)" font-size="9" font-weight="normal" text-anchor="start" fill="#222" color="#222">Tallow</text>
</svg>
</body></html>
